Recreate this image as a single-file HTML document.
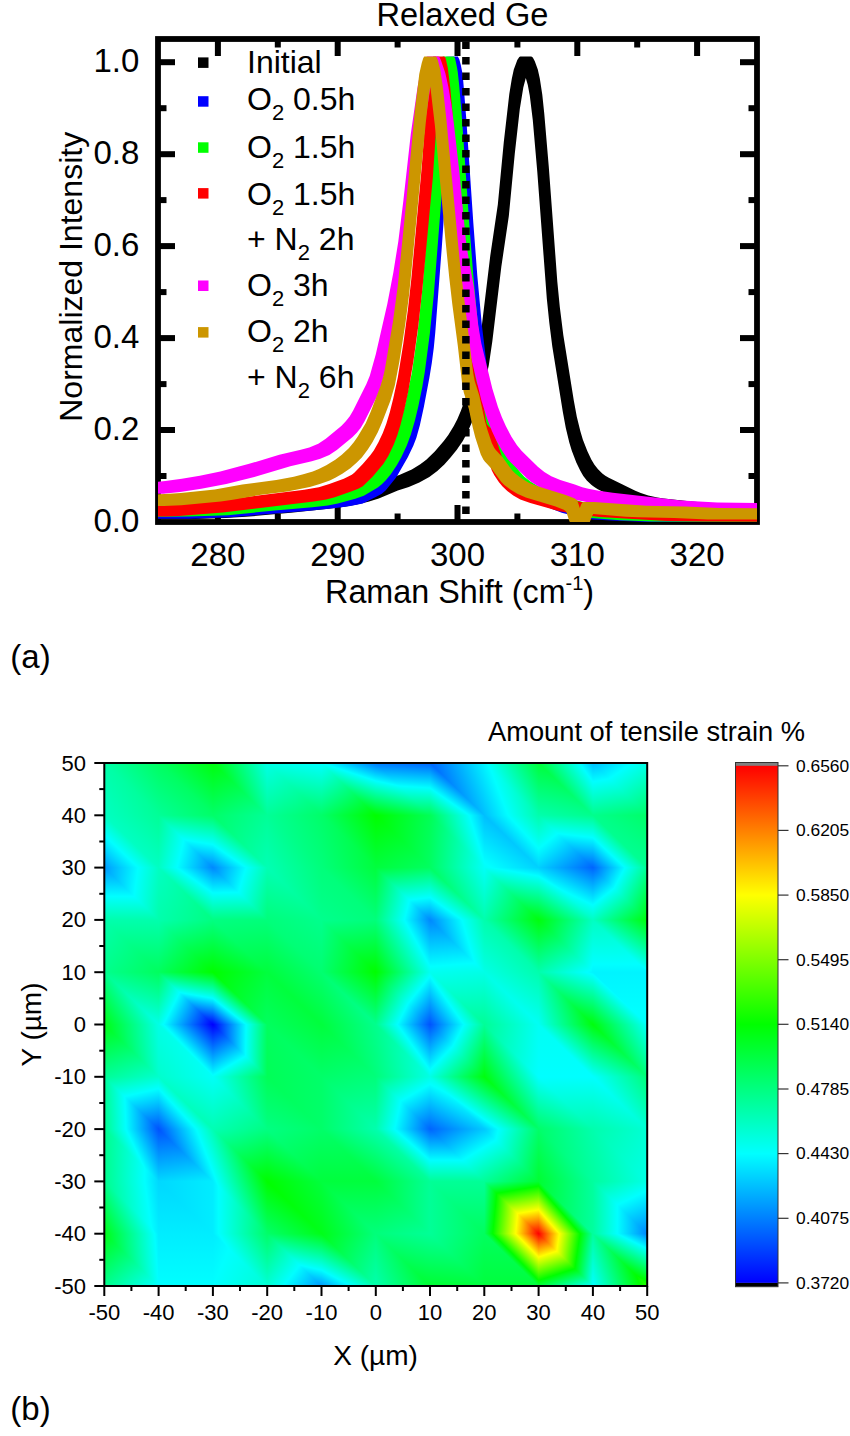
<!DOCTYPE html>
<html><head><meta charset="utf-8"><style>
html,body{margin:0;padding:0;background:#fff;}
svg{display:block;}
</style></head><body>
<svg width="850" height="1436" viewBox="0 0 850 1436" shape-rendering="auto">
<defs><linearGradient id="g1" gradientUnits="userSpaceOnUse" x1="126.41" y1="791.40" x2="160.21" y2="765.08"><stop offset="0.0000" stop-color="#00ffa9"/><stop offset="0.5750" stop-color="#00ff80"/><stop offset="1.0000" stop-color="#00ff61"/></linearGradient>
<linearGradient id="g2" gradientUnits="userSpaceOnUse" x1="101.43" y1="810.56" x2="141.16" y2="786.51"><stop offset="0.0000" stop-color="#00ffc2"/><stop offset="1.0000" stop-color="#00ff97"/></linearGradient>
<linearGradient id="g3" gradientUnits="userSpaceOnUse" x1="185.44" y1="790.98" x2="211.40" y2="761.69"><stop offset="0.0000" stop-color="#00ff69"/><stop offset="1.0000" stop-color="#00ff0e"/></linearGradient>
<linearGradient id="g4" gradientUnits="userSpaceOnUse" x1="160.68" y1="817.04" x2="186.41" y2="786.22"><stop offset="0.0000" stop-color="#00ff97"/><stop offset="0.4333" stop-color="#00ff80"/><stop offset="1.0000" stop-color="#00ff61"/></linearGradient>
<linearGradient id="g5" gradientUnits="userSpaceOnUse" x1="270.68" y1="772.21" x2="223.26" y2="790.26"><stop offset="0.0000" stop-color="#00ffe6"/><stop offset="0.4750" stop-color="#00ff80"/><stop offset="1.0000" stop-color="#00ff0e"/></linearGradient>
<linearGradient id="g6" gradientUnits="userSpaceOnUse" x1="245.22" y1="826.30" x2="213.38" y2="762.75"><stop offset="0.0000" stop-color="#00ff97"/><stop offset="0.1711" stop-color="#00ff80"/><stop offset="1.0000" stop-color="#00ff0e"/></linearGradient>
<linearGradient id="g7" gradientUnits="userSpaceOnUse" x1="306.55" y1="760.61" x2="298.36" y2="811.59"><stop offset="0.0000" stop-color="#00ffff"/><stop offset="0.8452" stop-color="#00ff80"/><stop offset="1.0000" stop-color="#00ff69"/></linearGradient>
<linearGradient id="g8" gradientUnits="userSpaceOnUse" x1="265.85" y1="763.75" x2="301.62" y2="826.59"><stop offset="0.0000" stop-color="#00ffe6"/><stop offset="0.8143" stop-color="#00ff80"/><stop offset="1.0000" stop-color="#00ff69"/></linearGradient>
<linearGradient id="g9" gradientUnits="userSpaceOnUse" x1="364.62" y1="759.33" x2="349.05" y2="806.49"><stop offset="0.0000" stop-color="#007bff"/><stop offset="0.0139" stop-color="#0080ff"/><stop offset="0.3426" stop-color="#00ffff"/><stop offset="0.6713" stop-color="#00ff80"/><stop offset="1.0000" stop-color="#00ff00"/></linearGradient>
<linearGradient id="g10" gradientUnits="userSpaceOnUse" x1="317.93" y1="765.35" x2="358.70" y2="826.64"><stop offset="0.0000" stop-color="#00ffff"/><stop offset="0.5000" stop-color="#00ff80"/><stop offset="1.0000" stop-color="#00ff00"/></linearGradient>
<linearGradient id="g11" gradientUnits="userSpaceOnUse" x1="413.13" y1="761.91" x2="409.79" y2="814.00"><stop offset="0.0000" stop-color="#0065ff"/><stop offset="0.0833" stop-color="#0080ff"/><stop offset="0.4778" stop-color="#00ffff"/><stop offset="0.8722" stop-color="#00ff80"/><stop offset="1.0000" stop-color="#00ff57"/></linearGradient>
<linearGradient id="g12" gradientUnits="userSpaceOnUse" x1="400.19" y1="768.23" x2="389.49" y2="818.24"><stop offset="0.0000" stop-color="#007bff"/><stop offset="0.0139" stop-color="#0080ff"/><stop offset="0.3426" stop-color="#00ffff"/><stop offset="0.6713" stop-color="#00ff80"/><stop offset="1.0000" stop-color="#00ff00"/></linearGradient>
<linearGradient id="g13" gradientUnits="userSpaceOnUse" x1="440.70" y1="790.37" x2="487.84" y2="772.02"><stop offset="0.0000" stop-color="#0065ff"/><stop offset="0.1875" stop-color="#0080ff"/><stop offset="1.0000" stop-color="#00f4ff"/></linearGradient>
<linearGradient id="g14" gradientUnits="userSpaceOnUse" x1="458.58" y1="782.86" x2="434.06" y2="818.10"><stop offset="0.0000" stop-color="#0065ff"/><stop offset="0.0833" stop-color="#0080ff"/><stop offset="0.4778" stop-color="#00ffff"/><stop offset="0.8722" stop-color="#00ff80"/><stop offset="1.0000" stop-color="#00ff57"/></linearGradient>
<linearGradient id="g15" gradientUnits="userSpaceOnUse" x1="500.54" y1="791.71" x2="541.71" y2="768.47"><stop offset="0.0000" stop-color="#00f4ff"/><stop offset="0.0526" stop-color="#00ffff"/><stop offset="0.6754" stop-color="#00ff80"/><stop offset="1.0000" stop-color="#00ff3d"/></linearGradient>
<linearGradient id="g16" gradientUnits="userSpaceOnUse" x1="480.82" y1="806.07" x2="528.27" y2="788.05"><stop offset="0.0000" stop-color="#00bfff"/><stop offset="0.4390" stop-color="#00ffff"/><stop offset="1.0000" stop-color="#00ffad"/></linearGradient>
<linearGradient id="g17" gradientUnits="userSpaceOnUse" x1="594.99" y1="765.89" x2="559.27" y2="791.64"><stop offset="0.0000" stop-color="#00bfff"/><stop offset="0.2500" stop-color="#00ffff"/><stop offset="0.7431" stop-color="#00ff80"/><stop offset="1.0000" stop-color="#00ff3d"/></linearGradient>
<linearGradient id="g18" gradientUnits="userSpaceOnUse" x1="550.88" y1="818.73" x2="564.45" y2="770.22"><stop offset="0.0000" stop-color="#00ffad"/><stop offset="0.4032" stop-color="#00ff80"/><stop offset="1.0000" stop-color="#00ff3d"/></linearGradient>
<linearGradient id="g19" gradientUnits="userSpaceOnUse" x1="609.33" y1="751.70" x2="651.20" y2="812.55"><stop offset="0.0000" stop-color="#00bfff"/><stop offset="0.3000" stop-color="#00ffff"/><stop offset="0.8917" stop-color="#00ff80"/><stop offset="1.0000" stop-color="#00ff69"/></linearGradient>
<linearGradient id="g20" gradientUnits="userSpaceOnUse" x1="603.88" y1="760.89" x2="615.54" y2="821.40"><stop offset="0.0000" stop-color="#00bfff"/><stop offset="0.3000" stop-color="#00ffff"/><stop offset="0.8917" stop-color="#00ff80"/><stop offset="1.0000" stop-color="#00ff69"/></linearGradient>
<linearGradient id="g21" gradientUnits="userSpaceOnUse" x1="131.78" y1="841.78" x2="157.91" y2="814.65"><stop offset="0.0000" stop-color="#00ffc2"/><stop offset="1.0000" stop-color="#00ff97"/></linearGradient>
<linearGradient id="g22" gradientUnits="userSpaceOnUse" x1="104.98" y1="868.25" x2="131.11" y2="841.12"><stop offset="0.0000" stop-color="#009bff"/><stop offset="0.6222" stop-color="#00ffff"/><stop offset="1.0000" stop-color="#00ffc2"/></linearGradient>
<linearGradient id="g23" gradientUnits="userSpaceOnUse" x1="189.61" y1="863.71" x2="198.11" y2="812.83"><stop offset="0.0000" stop-color="#0089ff"/><stop offset="0.4400" stop-color="#00ffff"/><stop offset="0.9133" stop-color="#00ff80"/><stop offset="1.0000" stop-color="#00ff69"/></linearGradient>
<linearGradient id="g24" gradientUnits="userSpaceOnUse" x1="214.85" y1="859.68" x2="151.47" y2="843.88"><stop offset="0.0000" stop-color="#0089ff"/><stop offset="0.5323" stop-color="#00ffff"/><stop offset="1.0000" stop-color="#00ff97"/></linearGradient>
<linearGradient id="g25" gradientUnits="userSpaceOnUse" x1="277.74" y1="851.05" x2="215.46" y2="811.26"><stop offset="0.0000" stop-color="#00ffb4"/><stop offset="0.6905" stop-color="#00ff80"/><stop offset="1.0000" stop-color="#00ff69"/></linearGradient>
<linearGradient id="g26" gradientUnits="userSpaceOnUse" x1="216.93" y1="870.41" x2="241.43" y2="835.10"><stop offset="0.0000" stop-color="#0089ff"/><stop offset="0.4400" stop-color="#00ffff"/><stop offset="0.9133" stop-color="#00ff80"/><stop offset="1.0000" stop-color="#00ff69"/></linearGradient>
<linearGradient id="g27" gradientUnits="userSpaceOnUse" x1="278.15" y1="842.80" x2="324.98" y2="824.10"><stop offset="0.0000" stop-color="#00ff97"/><stop offset="0.5000" stop-color="#00ff80"/><stop offset="1.0000" stop-color="#00ff69"/></linearGradient>
<linearGradient id="g28" gradientUnits="userSpaceOnUse" x1="263.88" y1="861.27" x2="306.65" y2="839.07"><stop offset="0.0000" stop-color="#00ffb4"/><stop offset="0.9063" stop-color="#00ff80"/><stop offset="1.0000" stop-color="#00ff7b"/></linearGradient>
<linearGradient id="g29" gradientUnits="userSpaceOnUse" x1="338.98" y1="844.10" x2="378.60" y2="819.99"><stop offset="0.0000" stop-color="#00ff69"/><stop offset="1.0000" stop-color="#00ff00"/></linearGradient>
<linearGradient id="g30" gradientUnits="userSpaceOnUse" x1="318.13" y1="856.71" x2="367.80" y2="841.55"><stop offset="0.0000" stop-color="#00ff7b"/><stop offset="1.0000" stop-color="#00ff3d"/></linearGradient>
<linearGradient id="g31" gradientUnits="userSpaceOnUse" x1="434.19" y1="835.62" x2="374.12" y2="827.83"><stop offset="0.0000" stop-color="#00ff61"/><stop offset="1.0000" stop-color="#00ff00"/></linearGradient>
<linearGradient id="g32" gradientUnits="userSpaceOnUse" x1="410.12" y1="878.89" x2="374.49" y2="816.01"><stop offset="0.0000" stop-color="#00ff61"/><stop offset="1.0000" stop-color="#00ff00"/></linearGradient>
<linearGradient id="g33" gradientUnits="userSpaceOnUse" x1="487.71" y1="825.87" x2="438.44" y2="841.61"><stop offset="0.0000" stop-color="#00bfff"/><stop offset="0.2769" stop-color="#00ffff"/><stop offset="0.8231" stop-color="#00ff80"/><stop offset="1.0000" stop-color="#00ff57"/></linearGradient>
<linearGradient id="g34" gradientUnits="userSpaceOnUse" x1="485.42" y1="852.93" x2="427.57" y2="848.64"><stop offset="0.0000" stop-color="#00fff8"/><stop offset="0.7444" stop-color="#00ff80"/><stop offset="1.0000" stop-color="#00ff57"/></linearGradient>
<linearGradient id="g35" gradientUnits="userSpaceOnUse" x1="509.43" y1="842.84" x2="539.09" y2="815.81"><stop offset="0.0000" stop-color="#00bfff"/><stop offset="0.4390" stop-color="#00ffff"/><stop offset="1.0000" stop-color="#00ffad"/></linearGradient>
<linearGradient id="g36" gradientUnits="userSpaceOnUse" x1="512.77" y1="835.85" x2="487.94" y2="870.21"><stop offset="0.0000" stop-color="#00bfff"/><stop offset="0.9000" stop-color="#00ffff"/><stop offset="1.0000" stop-color="#00fff8"/></linearGradient>
<linearGradient id="g37" gradientUnits="userSpaceOnUse" x1="571.07" y1="865.08" x2="577.04" y2="813.47"><stop offset="0.0000" stop-color="#0065ff"/><stop offset="0.1000" stop-color="#0080ff"/><stop offset="0.5733" stop-color="#00ffff"/><stop offset="1.0000" stop-color="#00ff8d"/></linearGradient>
<linearGradient id="g38" gradientUnits="userSpaceOnUse" x1="579.41" y1="878.44" x2="532.60" y2="820.13"><stop offset="0.0000" stop-color="#0065ff"/><stop offset="0.1136" stop-color="#0080ff"/><stop offset="0.6515" stop-color="#00ffff"/><stop offset="1.0000" stop-color="#00ffad"/></linearGradient>
<linearGradient id="g39" gradientUnits="userSpaceOnUse" x1="619.17" y1="845.10" x2="644.71" y2="813.30"><stop offset="0.0000" stop-color="#00ff94"/><stop offset="0.4583" stop-color="#00ff80"/><stop offset="1.0000" stop-color="#00ff69"/></linearGradient>
<linearGradient id="g40" gradientUnits="userSpaceOnUse" x1="593.84" y1="868.47" x2="619.94" y2="840.64"><stop offset="0.0000" stop-color="#0065ff"/><stop offset="0.1000" stop-color="#0080ff"/><stop offset="0.5733" stop-color="#00ffff"/><stop offset="1.0000" stop-color="#00ff8d"/></linearGradient>
<linearGradient id="g41" gradientUnits="userSpaceOnUse" x1="102.61" y1="879.79" x2="162.98" y2="888.15"><stop offset="0.0000" stop-color="#009bff"/><stop offset="0.5490" stop-color="#00ffff"/><stop offset="1.0000" stop-color="#00ffad"/></linearGradient>
<linearGradient id="g42" gradientUnits="userSpaceOnUse" x1="122.40" y1="867.60" x2="122.40" y2="919.90"><stop offset="0.0000" stop-color="#009bff"/><stop offset="0.5490" stop-color="#00ffff"/><stop offset="1.0000" stop-color="#00ffad"/></linearGradient>
<linearGradient id="g43" gradientUnits="userSpaceOnUse" x1="209.05" y1="864.89" x2="184.38" y2="899.71"><stop offset="0.0000" stop-color="#0089ff"/><stop offset="0.4853" stop-color="#00ffff"/><stop offset="1.0000" stop-color="#00ff82"/></linearGradient>
<linearGradient id="g44" gradientUnits="userSpaceOnUse" x1="148.17" y1="887.67" x2="212.33" y2="920.97"><stop offset="0.0000" stop-color="#00ffc2"/><stop offset="1.0000" stop-color="#00ff82"/></linearGradient>
<linearGradient id="g45" gradientUnits="userSpaceOnUse" x1="211.11" y1="873.36" x2="275.40" y2="893.13"><stop offset="0.0000" stop-color="#0089ff"/><stop offset="0.4714" stop-color="#00ffff"/><stop offset="0.9786" stop-color="#00ff80"/><stop offset="1.0000" stop-color="#00ff7b"/></linearGradient>
<linearGradient id="g46" gradientUnits="userSpaceOnUse" x1="229.98" y1="867.12" x2="231.50" y2="920.91"><stop offset="0.0000" stop-color="#0089ff"/><stop offset="0.4714" stop-color="#00ffff"/><stop offset="0.9786" stop-color="#00ff80"/><stop offset="1.0000" stop-color="#00ff7b"/></linearGradient>
<linearGradient id="g47" gradientUnits="userSpaceOnUse" x1="275.73" y1="894.00" x2="324.85" y2="878.06"><stop offset="0.0000" stop-color="#00ffb4"/><stop offset="0.9063" stop-color="#00ff80"/><stop offset="1.0000" stop-color="#00ff7b"/></linearGradient>
<linearGradient id="g48" gradientUnits="userSpaceOnUse" x1="293.39" y1="875.49" x2="278.95" y2="923.45"><stop offset="0.0000" stop-color="#00ffb4"/><stop offset="0.9063" stop-color="#00ff80"/><stop offset="1.0000" stop-color="#00ff7b"/></linearGradient>
<linearGradient id="g49" gradientUnits="userSpaceOnUse" x1="348.94" y1="894.08" x2="375.07" y2="866.95"><stop offset="0.0000" stop-color="#00ff7b"/><stop offset="1.0000" stop-color="#00ff3d"/></linearGradient>
<linearGradient id="g50" gradientUnits="userSpaceOnUse" x1="322.14" y1="920.55" x2="348.27" y2="893.42"><stop offset="0.0000" stop-color="#00ff8d"/><stop offset="0.7000" stop-color="#00ff80"/><stop offset="1.0000" stop-color="#00ff7b"/></linearGradient>
<linearGradient id="g51" gradientUnits="userSpaceOnUse" x1="416.52" y1="921.59" x2="409.24" y2="863.41"><stop offset="0.0000" stop-color="#0089ff"/><stop offset="0.3793" stop-color="#00ffff"/><stop offset="0.7874" stop-color="#00ff80"/><stop offset="1.0000" stop-color="#00ff3d"/></linearGradient>
<linearGradient id="g52" gradientUnits="userSpaceOnUse" x1="432.01" y1="912.09" x2="368.57" y2="896.09"><stop offset="0.0000" stop-color="#0089ff"/><stop offset="0.3793" stop-color="#00ffff"/><stop offset="0.7874" stop-color="#00ff80"/><stop offset="1.0000" stop-color="#00ff3d"/></linearGradient>
<linearGradient id="g53" gradientUnits="userSpaceOnUse" x1="487.62" y1="873.93" x2="444.85" y2="896.13"><stop offset="0.0000" stop-color="#00fff8"/><stop offset="0.7976" stop-color="#00ff80"/><stop offset="1.0000" stop-color="#00ff61"/></linearGradient>
<linearGradient id="g54" gradientUnits="userSpaceOnUse" x1="433.99" y1="922.66" x2="458.56" y2="887.58"><stop offset="0.0000" stop-color="#0089ff"/><stop offset="0.4286" stop-color="#00ffff"/><stop offset="0.8896" stop-color="#00ff80"/><stop offset="1.0000" stop-color="#00ff61"/></linearGradient>
<linearGradient id="g55" gradientUnits="userSpaceOnUse" x1="524.14" y1="864.99" x2="515.00" y2="915.63"><stop offset="0.0000" stop-color="#00d0ff"/><stop offset="0.1625" stop-color="#00ffff"/><stop offset="0.6063" stop-color="#00ff80"/><stop offset="1.0000" stop-color="#00ff0e"/></linearGradient>
<linearGradient id="g56" gradientUnits="userSpaceOnUse" x1="474.03" y1="888.40" x2="538.42" y2="920.30"><stop offset="0.0000" stop-color="#00fff8"/><stop offset="0.5154" stop-color="#00ff80"/><stop offset="1.0000" stop-color="#00ff0e"/></linearGradient>
<linearGradient id="g57" gradientUnits="userSpaceOnUse" x1="585.04" y1="863.81" x2="564.59" y2="906.26"><stop offset="0.0000" stop-color="#0065ff"/><stop offset="0.1250" stop-color="#0080ff"/><stop offset="0.7167" stop-color="#00ffff"/><stop offset="1.0000" stop-color="#00ffc2"/></linearGradient>
<linearGradient id="g58" gradientUnits="userSpaceOnUse" x1="567.31" y1="884.87" x2="544.20" y2="923.26"><stop offset="0.0000" stop-color="#00d0ff"/><stop offset="0.1625" stop-color="#00ffff"/><stop offset="0.6063" stop-color="#00ff80"/><stop offset="1.0000" stop-color="#00ff0e"/></linearGradient>
<linearGradient id="g59" gradientUnits="userSpaceOnUse" x1="593.57" y1="866.34" x2="657.64" y2="900.05"><stop offset="0.0000" stop-color="#0065ff"/><stop offset="0.0682" stop-color="#0080ff"/><stop offset="0.3909" stop-color="#00ffff"/><stop offset="0.7136" stop-color="#00ff80"/><stop offset="1.0000" stop-color="#00ff0e"/></linearGradient>
<linearGradient id="g60" gradientUnits="userSpaceOnUse" x1="586.89" y1="872.43" x2="633.70" y2="930.74"><stop offset="0.0000" stop-color="#0065ff"/><stop offset="0.0682" stop-color="#0080ff"/><stop offset="0.3909" stop-color="#00ffff"/><stop offset="0.7136" stop-color="#00ff80"/><stop offset="1.0000" stop-color="#00ff0e"/></linearGradient>
<linearGradient id="g61" gradientUnits="userSpaceOnUse" x1="140.49" y1="919.90" x2="140.49" y2="972.20"><stop offset="0.0000" stop-color="#00ffad"/><stop offset="0.5682" stop-color="#00ff80"/><stop offset="1.0000" stop-color="#00ff5e"/></linearGradient>
<linearGradient id="g62" gradientUnits="userSpaceOnUse" x1="93.94" y1="934.32" x2="154.53" y2="977.86"><stop offset="0.0000" stop-color="#00ffad"/><stop offset="0.5682" stop-color="#00ff80"/><stop offset="1.0000" stop-color="#00ff5e"/></linearGradient>
<linearGradient id="g63" gradientUnits="userSpaceOnUse" x1="186.33" y1="910.99" x2="206.62" y2="974.21"><stop offset="0.0000" stop-color="#00ffad"/><stop offset="0.2604" stop-color="#00ff80"/><stop offset="1.0000" stop-color="#00ff00"/></linearGradient>
<linearGradient id="g64" gradientUnits="userSpaceOnUse" x1="149.18" y1="930.61" x2="205.76" y2="980.30"><stop offset="0.0000" stop-color="#00ffad"/><stop offset="0.2604" stop-color="#00ff80"/><stop offset="1.0000" stop-color="#00ff00"/></linearGradient>
<linearGradient id="g65" gradientUnits="userSpaceOnUse" x1="246.66" y1="916.07" x2="253.20" y2="973.78"><stop offset="0.0000" stop-color="#00ff82"/><stop offset="0.0263" stop-color="#00ff80"/><stop offset="1.0000" stop-color="#00ff3d"/></linearGradient>
<linearGradient id="g66" gradientUnits="userSpaceOnUse" x1="241.02" y1="932.70" x2="221.30" y2="976.03"><stop offset="0.0000" stop-color="#00ff82"/><stop offset="0.0139" stop-color="#00ff80"/><stop offset="1.0000" stop-color="#00ff00"/></linearGradient>
<linearGradient id="g67" gradientUnits="userSpaceOnUse" x1="315.88" y1="916.54" x2="292.77" y2="954.93"><stop offset="0.0000" stop-color="#00ff8d"/><stop offset="0.4375" stop-color="#00ff80"/><stop offset="1.0000" stop-color="#00ff70"/></linearGradient>
<linearGradient id="g68" gradientUnits="userSpaceOnUse" x1="295.25" y1="942.18" x2="269.79" y2="974.28"><stop offset="0.0000" stop-color="#00ff7b"/><stop offset="1.0000" stop-color="#00ff3d"/></linearGradient>
<linearGradient id="g69" gradientUnits="userSpaceOnUse" x1="354.52" y1="915.22" x2="362.85" y2="974.03"><stop offset="0.0000" stop-color="#00ff8d"/><stop offset="0.0897" stop-color="#00ff80"/><stop offset="1.0000" stop-color="#00ff00"/></linearGradient>
<linearGradient id="g70" gradientUnits="userSpaceOnUse" x1="313.96" y1="947.91" x2="377.68" y2="964.98"><stop offset="0.0000" stop-color="#00ff8d"/><stop offset="0.0897" stop-color="#00ff80"/><stop offset="1.0000" stop-color="#00ff00"/></linearGradient>
<linearGradient id="g71" gradientUnits="userSpaceOnUse" x1="433.20" y1="925.67" x2="391.48" y2="948.56"><stop offset="0.0000" stop-color="#0089ff"/><stop offset="0.4714" stop-color="#00ffff"/><stop offset="0.9786" stop-color="#00ff80"/><stop offset="1.0000" stop-color="#00ff7b"/></linearGradient>
<linearGradient id="g72" gradientUnits="userSpaceOnUse" x1="414.99" y1="943.63" x2="372.49" y2="966.02"><stop offset="0.0000" stop-color="#00fff1"/><stop offset="0.4701" stop-color="#00ff80"/><stop offset="1.0000" stop-color="#00ff00"/></linearGradient>
<linearGradient id="g73" gradientUnits="userSpaceOnUse" x1="437.72" y1="945.79" x2="487.62" y2="930.99"><stop offset="0.0000" stop-color="#0089ff"/><stop offset="0.5893" stop-color="#00ffff"/><stop offset="1.0000" stop-color="#00ffad"/></linearGradient>
<linearGradient id="g74" gradientUnits="userSpaceOnUse" x1="445.32" y1="918.71" x2="449.71" y2="974.90"><stop offset="0.0000" stop-color="#0089ff"/><stop offset="0.8250" stop-color="#00ffff"/><stop offset="1.0000" stop-color="#00ffe6"/></linearGradient>
<linearGradient id="g75" gradientUnits="userSpaceOnUse" x1="511.81" y1="946.38" x2="537.94" y2="919.25"><stop offset="0.0000" stop-color="#00ffad"/><stop offset="0.2841" stop-color="#00ff80"/><stop offset="1.0000" stop-color="#00ff0e"/></linearGradient>
<linearGradient id="g76" gradientUnits="userSpaceOnUse" x1="485.01" y1="972.85" x2="511.14" y2="945.72"><stop offset="0.0000" stop-color="#00ffe6"/><stop offset="1.0000" stop-color="#00ffad"/></linearGradient>
<linearGradient id="g77" gradientUnits="userSpaceOnUse" x1="602.60" y1="948.87" x2="537.77" y2="921.95"><stop offset="0.0000" stop-color="#00f4ff"/><stop offset="0.0429" stop-color="#00ffff"/><stop offset="0.5500" stop-color="#00ff80"/><stop offset="1.0000" stop-color="#00ff0e"/></linearGradient>
<linearGradient id="g78" gradientUnits="userSpaceOnUse" x1="573.07" y1="983.49" x2="537.30" y2="920.65"><stop offset="0.0000" stop-color="#00f4ff"/><stop offset="0.0429" stop-color="#00ffff"/><stop offset="0.5500" stop-color="#00ff80"/><stop offset="1.0000" stop-color="#00ff0e"/></linearGradient>
<linearGradient id="g79" gradientUnits="userSpaceOnUse" x1="618.64" y1="952.55" x2="643.06" y2="917.05"><stop offset="0.0000" stop-color="#00f4ff"/><stop offset="0.0429" stop-color="#00ffff"/><stop offset="0.5500" stop-color="#00ff80"/><stop offset="1.0000" stop-color="#00ff0e"/></linearGradient>
<linearGradient id="g80" gradientUnits="userSpaceOnUse" x1="611.01" y1="972.20" x2="611.01" y2="919.90"><stop offset="0.0000" stop-color="#00f4ff"/><stop offset="0.1500" stop-color="#00ffff"/><stop offset="1.0000" stop-color="#00ffc2"/></linearGradient>
<linearGradient id="g81" gradientUnits="userSpaceOnUse" x1="131.90" y1="1015.70" x2="147.45" y2="968.53"><stop offset="0.0000" stop-color="#00ffe6"/><stop offset="0.7500" stop-color="#00ff80"/><stop offset="1.0000" stop-color="#00ff5e"/></linearGradient>
<linearGradient id="g82" gradientUnits="userSpaceOnUse" x1="141.60" y1="995.73" x2="101.35" y2="1019.50"><stop offset="0.0000" stop-color="#00ffe6"/><stop offset="0.4914" stop-color="#00ff80"/><stop offset="1.0000" stop-color="#00ff16"/></linearGradient>
<linearGradient id="g83" gradientUnits="userSpaceOnUse" x1="189.36" y1="1020.35" x2="198.31" y2="969.63"><stop offset="0.0000" stop-color="#0000ff"/><stop offset="0.2500" stop-color="#0080ff"/><stop offset="0.5000" stop-color="#00ffff"/><stop offset="0.7500" stop-color="#00ff80"/><stop offset="1.0000" stop-color="#00ff00"/></linearGradient>
<linearGradient id="g84" gradientUnits="userSpaceOnUse" x1="212.53" y1="1025.19" x2="148.23" y2="992.68"><stop offset="0.0000" stop-color="#0000ff"/><stop offset="0.3060" stop-color="#0080ff"/><stop offset="0.6121" stop-color="#00ffff"/><stop offset="0.9181" stop-color="#00ff80"/><stop offset="1.0000" stop-color="#00ff5e"/></linearGradient>
<linearGradient id="g85" gradientUnits="userSpaceOnUse" x1="277.69" y1="1005.36" x2="213.92" y2="970.31"><stop offset="0.0000" stop-color="#00ff5e"/><stop offset="1.0000" stop-color="#00ff00"/></linearGradient>
<linearGradient id="g86" gradientUnits="userSpaceOnUse" x1="215.58" y1="1026.63" x2="241.00" y2="994.33"><stop offset="0.0000" stop-color="#0000ff"/><stop offset="0.2500" stop-color="#0080ff"/><stop offset="0.5000" stop-color="#00ffff"/><stop offset="0.7500" stop-color="#00ff80"/><stop offset="1.0000" stop-color="#00ff00"/></linearGradient>
<linearGradient id="g87" gradientUnits="userSpaceOnUse" x1="320.78" y1="971.55" x2="294.65" y2="998.68"><stop offset="0.0000" stop-color="#00ff70"/><stop offset="1.0000" stop-color="#00ff3d"/></linearGradient>
<linearGradient id="g88" gradientUnits="userSpaceOnUse" x1="267.85" y1="1025.15" x2="293.98" y2="998.02"><stop offset="0.0000" stop-color="#00ff5e"/><stop offset="1.0000" stop-color="#00ff3d"/></linearGradient>
<linearGradient id="g89" gradientUnits="userSpaceOnUse" x1="347.51" y1="1002.88" x2="372.76" y2="969.91"><stop offset="0.0000" stop-color="#00ff8d"/><stop offset="0.0897" stop-color="#00ff80"/><stop offset="1.0000" stop-color="#00ff00"/></linearGradient>
<linearGradient id="g90" gradientUnits="userSpaceOnUse" x1="356.74" y1="995.72" x2="318.94" y2="1020.69"><stop offset="0.0000" stop-color="#00ff8d"/><stop offset="0.1591" stop-color="#00ff80"/><stop offset="1.0000" stop-color="#00ff3d"/></linearGradient>
<linearGradient id="g91" gradientUnits="userSpaceOnUse" x1="439.95" y1="1012.20" x2="381.48" y2="965.09"><stop offset="0.0000" stop-color="#0053ff"/><stop offset="0.1050" stop-color="#0080ff"/><stop offset="0.4034" stop-color="#00ffff"/><stop offset="0.7017" stop-color="#00ff80"/><stop offset="1.0000" stop-color="#00ff00"/></linearGradient>
<linearGradient id="g92" gradientUnits="userSpaceOnUse" x1="429.68" y1="1025.20" x2="365.39" y2="992.67"><stop offset="0.0000" stop-color="#0053ff"/><stop offset="0.1050" stop-color="#0080ff"/><stop offset="0.4034" stop-color="#00ffff"/><stop offset="0.7017" stop-color="#00ff80"/><stop offset="1.0000" stop-color="#00ff00"/></linearGradient>
<linearGradient id="g93" gradientUnits="userSpaceOnUse" x1="463.37" y1="967.82" x2="471.04" y2="1026.25"><stop offset="0.0000" stop-color="#00fff1"/><stop offset="1.0000" stop-color="#00ff97"/></linearGradient>
<linearGradient id="g94" gradientUnits="userSpaceOnUse" x1="427.81" y1="1021.32" x2="464.21" y2="995.80"><stop offset="0.0000" stop-color="#0053ff"/><stop offset="0.1623" stop-color="#0080ff"/><stop offset="0.6234" stop-color="#00ffff"/><stop offset="1.0000" stop-color="#00ff97"/></linearGradient>
<linearGradient id="g95" gradientUnits="userSpaceOnUse" x1="510.41" y1="1002.76" x2="535.70" y2="969.95"><stop offset="0.0000" stop-color="#00fff4"/><stop offset="1.0000" stop-color="#00ffad"/></linearGradient>
<linearGradient id="g96" gradientUnits="userSpaceOnUse" x1="514.21" y1="996.71" x2="483.57" y2="1023.63"><stop offset="0.0000" stop-color="#00fff4"/><stop offset="1.0000" stop-color="#00ff97"/></linearGradient>
<linearGradient id="g97" gradientUnits="userSpaceOnUse" x1="582.40" y1="968.44" x2="565.81" y2="1014.80"><stop offset="0.0000" stop-color="#00f4ff"/><stop offset="0.0429" stop-color="#00ffff"/><stop offset="0.5500" stop-color="#00ff80"/><stop offset="1.0000" stop-color="#00ff0e"/></linearGradient>
<linearGradient id="g98" gradientUnits="userSpaceOnUse" x1="535.23" y1="1014.04" x2="584.35" y2="998.10"><stop offset="0.0000" stop-color="#00fff4"/><stop offset="0.5078" stop-color="#00ff80"/><stop offset="1.0000" stop-color="#00ff0e"/></linearGradient>
<linearGradient id="g99" gradientUnits="userSpaceOnUse" x1="629.10" y1="972.20" x2="629.10" y2="1024.50"><stop offset="0.0000" stop-color="#00f4ff"/><stop offset="0.7500" stop-color="#00ffff"/><stop offset="1.0000" stop-color="#00fffb"/></linearGradient>
<linearGradient id="g100" gradientUnits="userSpaceOnUse" x1="620.18" y1="996.97" x2="594.15" y2="1025.63"><stop offset="0.0000" stop-color="#00f4ff"/><stop offset="0.0429" stop-color="#00ffff"/><stop offset="0.5500" stop-color="#00ff80"/><stop offset="1.0000" stop-color="#00ff0e"/></linearGradient>
<linearGradient id="g101" gradientUnits="userSpaceOnUse" x1="160.46" y1="1039.43" x2="107.01" y2="1046.13"><stop offset="0.0000" stop-color="#00ffe6"/><stop offset="0.4914" stop-color="#00ff80"/><stop offset="1.0000" stop-color="#00ff16"/></linearGradient>
<linearGradient id="g102" gradientUnits="userSpaceOnUse" x1="133.45" y1="1086.89" x2="107.83" y2="1023.08"><stop offset="0.0000" stop-color="#00ffcd"/><stop offset="0.4216" stop-color="#00ff80"/><stop offset="1.0000" stop-color="#00ff16"/></linearGradient>
<linearGradient id="g103" gradientUnits="userSpaceOnUse" x1="212.81" y1="1024.42" x2="184.88" y2="1051.56"><stop offset="0.0000" stop-color="#0000ff"/><stop offset="0.4551" stop-color="#0080ff"/><stop offset="0.9103" stop-color="#00ffff"/><stop offset="1.0000" stop-color="#00ffe6"/></linearGradient>
<linearGradient id="g104" gradientUnits="userSpaceOnUse" x1="195.45" y1="1048.01" x2="155.72" y2="1072.06"><stop offset="0.0000" stop-color="#00fff8"/><stop offset="1.0000" stop-color="#00ffcd"/></linearGradient>
<linearGradient id="g105" gradientUnits="userSpaceOnUse" x1="212.58" y1="1041.28" x2="267.79" y2="1042.27"><stop offset="0.0000" stop-color="#0000ff"/><stop offset="0.3008" stop-color="#0080ff"/><stop offset="0.6017" stop-color="#00ffff"/><stop offset="0.9025" stop-color="#00ff80"/><stop offset="1.0000" stop-color="#00ff57"/></linearGradient>
<linearGradient id="g106" gradientUnits="userSpaceOnUse" x1="210.95" y1="1025.65" x2="248.07" y2="1088.14"><stop offset="0.0000" stop-color="#0000ff"/><stop offset="0.3008" stop-color="#0080ff"/><stop offset="0.6017" stop-color="#00ffff"/><stop offset="0.9025" stop-color="#00ff80"/><stop offset="1.0000" stop-color="#00ff57"/></linearGradient>
<linearGradient id="g107" gradientUnits="userSpaceOnUse" x1="293.02" y1="1056.25" x2="317.85" y2="1021.89"><stop offset="0.0000" stop-color="#00ff69"/><stop offset="1.0000" stop-color="#00ff3d"/></linearGradient>
<linearGradient id="g108" gradientUnits="userSpaceOnUse" x1="309.96" y1="1049.11" x2="263.66" y2="1068.34"><stop offset="0.0000" stop-color="#00ff69"/><stop offset="1.0000" stop-color="#00ff57"/></linearGradient>
<linearGradient id="g109" gradientUnits="userSpaceOnUse" x1="378.69" y1="1036.97" x2="327.26" y2="1049.10"><stop offset="0.0000" stop-color="#00ff8d"/><stop offset="0.1591" stop-color="#00ff80"/><stop offset="1.0000" stop-color="#00ff3d"/></linearGradient>
<linearGradient id="g110" gradientUnits="userSpaceOnUse" x1="350.61" y1="1086.89" x2="324.99" y2="1023.08"><stop offset="0.0000" stop-color="#00ff7b"/><stop offset="1.0000" stop-color="#00ff3d"/></linearGradient>
<linearGradient id="g111" gradientUnits="userSpaceOnUse" x1="432.18" y1="1027.49" x2="396.21" y2="1053.16"><stop offset="0.0000" stop-color="#0053ff"/><stop offset="0.1562" stop-color="#0080ff"/><stop offset="0.6000" stop-color="#00ffff"/><stop offset="1.0000" stop-color="#00ff8d"/></linearGradient>
<linearGradient id="g112" gradientUnits="userSpaceOnUse" x1="426.06" y1="1053.79" x2="373.35" y2="1062.91"><stop offset="0.0000" stop-color="#00ffe6"/><stop offset="0.9500" stop-color="#00ff80"/><stop offset="1.0000" stop-color="#00ff7b"/></linearGradient>
<linearGradient id="g113" gradientUnits="userSpaceOnUse" x1="430.49" y1="1023.62" x2="494.72" y2="1056.52"><stop offset="0.0000" stop-color="#0053ff"/><stop offset="0.1087" stop-color="#0080ff"/><stop offset="0.4174" stop-color="#00ffff"/><stop offset="0.7261" stop-color="#00ff80"/><stop offset="1.0000" stop-color="#00ff0e"/></linearGradient>
<linearGradient id="g114" gradientUnits="userSpaceOnUse" x1="421.23" y1="1033.76" x2="475.84" y2="1085.73"><stop offset="0.0000" stop-color="#0053ff"/><stop offset="0.1087" stop-color="#0080ff"/><stop offset="0.4174" stop-color="#00ffff"/><stop offset="0.7261" stop-color="#00ff80"/><stop offset="1.0000" stop-color="#00ff0e"/></linearGradient>
<linearGradient id="g115" gradientUnits="userSpaceOnUse" x1="542.48" y1="1044.56" x2="482.78" y2="1037.41"><stop offset="0.0000" stop-color="#00ffff"/><stop offset="1.0000" stop-color="#00ff97"/></linearGradient>
<linearGradient id="g116" gradientUnits="userSpaceOnUse" x1="521.68" y1="1048.03" x2="481.37" y2="1071.77"><stop offset="0.0000" stop-color="#00ffff"/><stop offset="0.5299" stop-color="#00ff80"/><stop offset="1.0000" stop-color="#00ff0e"/></linearGradient>
<linearGradient id="g117" gradientUnits="userSpaceOnUse" x1="565.74" y1="1051.80" x2="591.80" y2="1023.48"><stop offset="0.0000" stop-color="#00ffff"/><stop offset="0.5299" stop-color="#00ff80"/><stop offset="1.0000" stop-color="#00ff0e"/></linearGradient>
<linearGradient id="g118" gradientUnits="userSpaceOnUse" x1="556.72" y1="1076.80" x2="556.72" y2="1024.50"><stop offset="0.0000" stop-color="#00ffff"/><stop offset="1.0000" stop-color="#00fff4"/></linearGradient>
<linearGradient id="g119" gradientUnits="userSpaceOnUse" x1="650.28" y1="1029.94" x2="609.17" y2="1053.22"><stop offset="0.0000" stop-color="#00fffb"/><stop offset="0.5227" stop-color="#00ff80"/><stop offset="1.0000" stop-color="#00ff0e"/></linearGradient>
<linearGradient id="g120" gradientUnits="userSpaceOnUse" x1="599.79" y1="1080.46" x2="621.47" y2="1039.69"><stop offset="0.0000" stop-color="#00ffff"/><stop offset="0.5299" stop-color="#00ff80"/><stop offset="1.0000" stop-color="#00ff0e"/></linearGradient>
<linearGradient id="g121" gradientUnits="userSpaceOnUse" x1="149.13" y1="1131.30" x2="134.77" y2="1069.70"><stop offset="0.0000" stop-color="#0053ff"/><stop offset="0.1623" stop-color="#0080ff"/><stop offset="0.6234" stop-color="#00ffff"/><stop offset="1.0000" stop-color="#00ff97"/></linearGradient>
<linearGradient id="g122" gradientUnits="userSpaceOnUse" x1="157.86" y1="1110.29" x2="103.65" y2="1112.40"><stop offset="0.0000" stop-color="#0053ff"/><stop offset="0.1562" stop-color="#0080ff"/><stop offset="0.6000" stop-color="#00ffff"/><stop offset="1.0000" stop-color="#00ff8d"/></linearGradient>
<linearGradient id="g123" gradientUnits="userSpaceOnUse" x1="207.41" y1="1073.47" x2="184.19" y2="1111.64"><stop offset="0.0000" stop-color="#00fff8"/><stop offset="1.0000" stop-color="#00ffb4"/></linearGradient>
<linearGradient id="g124" gradientUnits="userSpaceOnUse" x1="158.31" y1="1128.80" x2="187.35" y2="1101.72"><stop offset="0.0000" stop-color="#0053ff"/><stop offset="0.1812" stop-color="#0080ff"/><stop offset="0.6957" stop-color="#00ffff"/><stop offset="1.0000" stop-color="#00ffb4"/></linearGradient>
<linearGradient id="g125" gradientUnits="userSpaceOnUse" x1="219.94" y1="1102.30" x2="270.36" y2="1088.34"><stop offset="0.0000" stop-color="#00fff8"/><stop offset="0.7444" stop-color="#00ff80"/><stop offset="1.0000" stop-color="#00ff57"/></linearGradient>
<linearGradient id="g126" gradientUnits="userSpaceOnUse" x1="208.46" y1="1079.94" x2="251.33" y2="1140.34"><stop offset="0.0000" stop-color="#00fff8"/><stop offset="1.0000" stop-color="#00ff82"/></linearGradient>
<linearGradient id="g127" gradientUnits="userSpaceOnUse" x1="321.46" y1="1094.23" x2="267.17" y2="1094.23"><stop offset="0.0000" stop-color="#00ff69"/><stop offset="1.0000" stop-color="#00ff57"/></linearGradient>
<linearGradient id="g128" gradientUnits="userSpaceOnUse" x1="273.48" y1="1132.64" x2="295.81" y2="1092.90"><stop offset="0.0000" stop-color="#00ff82"/><stop offset="0.0417" stop-color="#00ff80"/><stop offset="1.0000" stop-color="#00ff57"/></linearGradient>
<linearGradient id="g129" gradientUnits="userSpaceOnUse" x1="370.29" y1="1130.98" x2="348.46" y2="1067.51"><stop offset="0.0000" stop-color="#00ffad"/><stop offset="0.6579" stop-color="#00ff80"/><stop offset="1.0000" stop-color="#00ff69"/></linearGradient>
<linearGradient id="g130" gradientUnits="userSpaceOnUse" x1="375.75" y1="1111.67" x2="321.46" y2="1111.67"><stop offset="0.0000" stop-color="#00ffad"/><stop offset="0.6579" stop-color="#00ff80"/><stop offset="1.0000" stop-color="#00ff69"/></linearGradient>
<linearGradient id="g131" gradientUnits="userSpaceOnUse" x1="431.58" y1="1128.21" x2="395.33" y2="1065.48"><stop offset="0.0000" stop-color="#0065ff"/><stop offset="0.0937" stop-color="#0080ff"/><stop offset="0.5375" stop-color="#00ffff"/><stop offset="0.9813" stop-color="#00ff80"/><stop offset="1.0000" stop-color="#00ff7b"/></linearGradient>
<linearGradient id="g132" gradientUnits="userSpaceOnUse" x1="432.03" y1="1120.07" x2="369.26" y2="1106.25"><stop offset="0.0000" stop-color="#0065ff"/><stop offset="0.0937" stop-color="#0080ff"/><stop offset="0.5375" stop-color="#00ffff"/><stop offset="0.9813" stop-color="#00ff80"/><stop offset="1.0000" stop-color="#00ff7b"/></linearGradient>
<linearGradient id="g133" gradientUnits="userSpaceOnUse" x1="455.82" y1="1109.00" x2="480.45" y2="1074.06"><stop offset="0.0000" stop-color="#00c9ff"/><stop offset="0.1829" stop-color="#00ffff"/><stop offset="0.6159" stop-color="#00ff80"/><stop offset="1.0000" stop-color="#00ff0e"/></linearGradient>
<linearGradient id="g134" gradientUnits="userSpaceOnUse" x1="436.77" y1="1132.73" x2="458.63" y2="1092.22"><stop offset="0.0000" stop-color="#0065ff"/><stop offset="0.1500" stop-color="#0080ff"/><stop offset="0.8600" stop-color="#00ffff"/><stop offset="1.0000" stop-color="#00ffe6"/></linearGradient>
<linearGradient id="g135" gradientUnits="userSpaceOnUse" x1="541.21" y1="1080.77" x2="503.07" y2="1105.59"><stop offset="0.0000" stop-color="#00ffff"/><stop offset="0.5299" stop-color="#00ff80"/><stop offset="1.0000" stop-color="#00ff0e"/></linearGradient>
<linearGradient id="g136" gradientUnits="userSpaceOnUse" x1="488.76" y1="1132.07" x2="512.94" y2="1095.96"><stop offset="0.0000" stop-color="#00c9ff"/><stop offset="0.1829" stop-color="#00ffff"/><stop offset="0.6159" stop-color="#00ff80"/><stop offset="1.0000" stop-color="#00ff0e"/></linearGradient>
<linearGradient id="g137" gradientUnits="userSpaceOnUse" x1="574.81" y1="1076.80" x2="574.81" y2="1129.10"><stop offset="0.0000" stop-color="#00ffff"/><stop offset="1.0000" stop-color="#00ffad"/></linearGradient>
<linearGradient id="g138" gradientUnits="userSpaceOnUse" x1="566.60" y1="1088.99" x2="547.44" y2="1132.95"><stop offset="0.0000" stop-color="#00ffff"/><stop offset="0.8452" stop-color="#00ff80"/><stop offset="1.0000" stop-color="#00ff69"/></linearGradient>
<linearGradient id="g139" gradientUnits="userSpaceOnUse" x1="613.04" y1="1105.50" x2="649.43" y2="1079.98"><stop offset="0.0000" stop-color="#00ffff"/><stop offset="0.9595" stop-color="#00ff80"/><stop offset="1.0000" stop-color="#00ff7b"/></linearGradient>
<linearGradient id="g140" gradientUnits="userSpaceOnUse" x1="621.09" y1="1089.78" x2="601.21" y2="1132.93"><stop offset="0.0000" stop-color="#00ffff"/><stop offset="1.0000" stop-color="#00ffad"/></linearGradient>
<linearGradient id="g141" gradientUnits="userSpaceOnUse" x1="162.00" y1="1136.21" x2="117.88" y2="1157.39"><stop offset="0.0000" stop-color="#0053ff"/><stop offset="0.1562" stop-color="#0080ff"/><stop offset="0.6000" stop-color="#00ffff"/><stop offset="1.0000" stop-color="#00ff8d"/></linearGradient>
<linearGradient id="g142" gradientUnits="userSpaceOnUse" x1="158.59" y1="1163.97" x2="104.30" y2="1163.97"><stop offset="0.0000" stop-color="#00d8ff"/><stop offset="0.2558" stop-color="#00ffff"/><stop offset="1.0000" stop-color="#00ff8d"/></linearGradient>
<linearGradient id="g143" gradientUnits="userSpaceOnUse" x1="169.31" y1="1156.50" x2="216.39" y2="1138.08"><stop offset="0.0000" stop-color="#0053ff"/><stop offset="0.1812" stop-color="#0080ff"/><stop offset="0.6957" stop-color="#00ffff"/><stop offset="1.0000" stop-color="#00ffb4"/></linearGradient>
<linearGradient id="g144" gradientUnits="userSpaceOnUse" x1="170.94" y1="1127.17" x2="180.21" y2="1186.50"><stop offset="0.0000" stop-color="#0053ff"/><stop offset="0.2907" stop-color="#0080ff"/><stop offset="1.0000" stop-color="#00edff"/></linearGradient>
<linearGradient id="g145" gradientUnits="userSpaceOnUse" x1="238.89" y1="1119.36" x2="262.76" y2="1183.05"><stop offset="0.0000" stop-color="#00ffb4"/><stop offset="0.2900" stop-color="#00ff80"/><stop offset="1.0000" stop-color="#00ff00"/></linearGradient>
<linearGradient id="g146" gradientUnits="userSpaceOnUse" x1="209.41" y1="1171.63" x2="257.62" y2="1154.51"><stop offset="0.0000" stop-color="#00edff"/><stop offset="0.0658" stop-color="#00ffff"/><stop offset="0.5329" stop-color="#00ff80"/><stop offset="1.0000" stop-color="#00ff00"/></linearGradient>
<linearGradient id="g147" gradientUnits="userSpaceOnUse" x1="287.23" y1="1117.83" x2="322.60" y2="1180.76"><stop offset="0.0000" stop-color="#00ff82"/><stop offset="0.0263" stop-color="#00ff80"/><stop offset="1.0000" stop-color="#00ff3d"/></linearGradient>
<linearGradient id="g148" gradientUnits="userSpaceOnUse" x1="295.31" y1="1141.90" x2="275.59" y2="1185.23"><stop offset="0.0000" stop-color="#00ff82"/><stop offset="0.0139" stop-color="#00ff80"/><stop offset="1.0000" stop-color="#00ff00"/></linearGradient>
<linearGradient id="g149" gradientUnits="userSpaceOnUse" x1="369.96" y1="1125.68" x2="347.07" y2="1164.46"><stop offset="0.0000" stop-color="#00ffad"/><stop offset="0.4032" stop-color="#00ff80"/><stop offset="1.0000" stop-color="#00ff3d"/></linearGradient>
<linearGradient id="g150" gradientUnits="userSpaceOnUse" x1="339.56" y1="1129.10" x2="339.56" y2="1181.40"><stop offset="0.0000" stop-color="#00ff69"/><stop offset="1.0000" stop-color="#00ff3d"/></linearGradient>
<linearGradient id="g151" gradientUnits="userSpaceOnUse" x1="428.52" y1="1127.76" x2="402.57" y2="1157.14"><stop offset="0.0000" stop-color="#0065ff"/><stop offset="0.1042" stop-color="#0080ff"/><stop offset="0.5972" stop-color="#00ffff"/><stop offset="1.0000" stop-color="#00ff97"/></linearGradient>
<linearGradient id="g152" gradientUnits="userSpaceOnUse" x1="403.93" y1="1150.99" x2="378.59" y2="1183.61"><stop offset="0.0000" stop-color="#00ffad"/><stop offset="0.4032" stop-color="#00ff80"/><stop offset="1.0000" stop-color="#00ff3d"/></linearGradient>
<linearGradient id="g153" gradientUnits="userSpaceOnUse" x1="448.58" y1="1117.73" x2="486.71" y2="1179.94"><stop offset="0.0000" stop-color="#0065ff"/><stop offset="0.1042" stop-color="#0080ff"/><stop offset="0.5972" stop-color="#00ffff"/><stop offset="1.0000" stop-color="#00ff97"/></linearGradient>
<linearGradient id="g154" gradientUnits="userSpaceOnUse" x1="448.14" y1="1129.10" x2="448.14" y2="1181.40"><stop offset="0.0000" stop-color="#0065ff"/><stop offset="0.1042" stop-color="#0080ff"/><stop offset="0.5972" stop-color="#00ffff"/><stop offset="1.0000" stop-color="#00ff97"/></linearGradient>
<linearGradient id="g155" gradientUnits="userSpaceOnUse" x1="482.41" y1="1136.12" x2="546.23" y2="1153.55"><stop offset="0.0000" stop-color="#00c9ff"/><stop offset="0.2083" stop-color="#00ffff"/><stop offset="0.7014" stop-color="#00ff80"/><stop offset="1.0000" stop-color="#00ff32"/></linearGradient>
<linearGradient id="g156" gradientUnits="userSpaceOnUse" x1="481.95" y1="1130.56" x2="520.08" y2="1192.77"><stop offset="0.0000" stop-color="#00c9ff"/><stop offset="0.2083" stop-color="#00ffff"/><stop offset="0.7014" stop-color="#00ff80"/><stop offset="1.0000" stop-color="#00ff32"/></linearGradient>
<linearGradient id="g157" gradientUnits="userSpaceOnUse" x1="595.72" y1="1141.96" x2="543.91" y2="1153.29"><stop offset="0.0000" stop-color="#00ffad"/><stop offset="0.6579" stop-color="#00ff80"/><stop offset="1.0000" stop-color="#00ff69"/></linearGradient>
<linearGradient id="g158" gradientUnits="userSpaceOnUse" x1="578.10" y1="1152.87" x2="535.33" y2="1175.07"><stop offset="0.0000" stop-color="#00ff9e"/><stop offset="0.2833" stop-color="#00ff80"/><stop offset="1.0000" stop-color="#00ff32"/></linearGradient>
<linearGradient id="g159" gradientUnits="userSpaceOnUse" x1="657.36" y1="1159.87" x2="592.77" y2="1129.39"><stop offset="0.0000" stop-color="#00ffe6"/><stop offset="1.0000" stop-color="#00ffad"/></linearGradient>
<linearGradient id="g160" gradientUnits="userSpaceOnUse" x1="642.23" y1="1157.48" x2="590.19" y2="1168.29"><stop offset="0.0000" stop-color="#00ffe6"/><stop offset="1.0000" stop-color="#00ff9e"/></linearGradient>
<linearGradient id="g161" gradientUnits="userSpaceOnUse" x1="160.69" y1="1195.91" x2="107.52" y2="1203.61"><stop offset="0.0000" stop-color="#00d8ff"/><stop offset="0.2558" stop-color="#00ffff"/><stop offset="1.0000" stop-color="#00ff8d"/></linearGradient>
<linearGradient id="g162" gradientUnits="userSpaceOnUse" x1="144.71" y1="1205.35" x2="100.91" y2="1226.78"><stop offset="0.0000" stop-color="#00edff"/><stop offset="0.0714" stop-color="#00ffff"/><stop offset="0.5786" stop-color="#00ff80"/><stop offset="1.0000" stop-color="#00ff16"/></linearGradient>
<linearGradient id="g163" gradientUnits="userSpaceOnUse" x1="158.59" y1="1198.83" x2="212.88" y2="1198.83"><stop offset="0.0000" stop-color="#00d8ff"/><stop offset="1.0000" stop-color="#00edff"/></linearGradient>
<linearGradient id="g164" gradientUnits="userSpaceOnUse" x1="176.69" y1="1181.40" x2="176.69" y2="1233.70"><stop offset="0.0000" stop-color="#00d8ff"/><stop offset="1.0000" stop-color="#00edff"/></linearGradient>
<linearGradient id="g165" gradientUnits="userSpaceOnUse" x1="223.76" y1="1208.86" x2="270.68" y2="1190.27"><stop offset="0.0000" stop-color="#00edff"/><stop offset="0.0658" stop-color="#00ffff"/><stop offset="0.5329" stop-color="#00ff80"/><stop offset="1.0000" stop-color="#00ff00"/></linearGradient>
<linearGradient id="g166" gradientUnits="userSpaceOnUse" x1="212.88" y1="1216.27" x2="267.17" y2="1216.27"><stop offset="0.0000" stop-color="#00edff"/><stop offset="0.1064" stop-color="#00ffff"/><stop offset="0.8617" stop-color="#00ff80"/><stop offset="1.0000" stop-color="#00ff69"/></linearGradient>
<linearGradient id="g167" gradientUnits="userSpaceOnUse" x1="324.30" y1="1186.05" x2="284.75" y2="1210.20"><stop offset="0.0000" stop-color="#00ff3d"/><stop offset="1.0000" stop-color="#00ff00"/></linearGradient>
<linearGradient id="g168" gradientUnits="userSpaceOnUse" x1="270.66" y1="1236.25" x2="295.58" y2="1202.16"><stop offset="0.0000" stop-color="#00ff69"/><stop offset="1.0000" stop-color="#00ff00"/></linearGradient>
<linearGradient id="g169" gradientUnits="userSpaceOnUse" x1="357.65" y1="1233.70" x2="357.65" y2="1181.40"><stop offset="0.0000" stop-color="#00ff7b"/><stop offset="1.0000" stop-color="#00ff3d"/></linearGradient>
<linearGradient id="g170" gradientUnits="userSpaceOnUse" x1="365.25" y1="1206.39" x2="317.95" y2="1224.57"><stop offset="0.0000" stop-color="#00ff7b"/><stop offset="1.0000" stop-color="#00ff19"/></linearGradient>
<linearGradient id="g171" gradientUnits="userSpaceOnUse" x1="430.04" y1="1198.83" x2="375.75" y2="1198.83"><stop offset="0.0000" stop-color="#00ff97"/><stop offset="0.2600" stop-color="#00ff80"/><stop offset="1.0000" stop-color="#00ff3d"/></linearGradient>
<linearGradient id="g172" gradientUnits="userSpaceOnUse" x1="406.57" y1="1244.34" x2="377.65" y2="1180.54"><stop offset="0.0000" stop-color="#00ff97"/><stop offset="0.2600" stop-color="#00ff80"/><stop offset="1.0000" stop-color="#00ff3d"/></linearGradient>
<linearGradient id="g173" gradientUnits="userSpaceOnUse" x1="466.23" y1="1181.40" x2="466.23" y2="1233.70"><stop offset="0.0000" stop-color="#00ff97"/><stop offset="0.4063" stop-color="#00ff80"/><stop offset="1.0000" stop-color="#00ff5e"/></linearGradient>
<linearGradient id="g174" gradientUnits="userSpaceOnUse" x1="430.04" y1="1216.27" x2="484.33" y2="1216.27"><stop offset="0.0000" stop-color="#00ff97"/><stop offset="0.4063" stop-color="#00ff80"/><stop offset="1.0000" stop-color="#00ff5e"/></linearGradient>
<linearGradient id="g175" gradientUnits="userSpaceOnUse" x1="516.55" y1="1175.83" x2="526.90" y2="1235.73"><stop offset="0.0000" stop-color="#00ff97"/><stop offset="0.0353" stop-color="#00ff80"/><stop offset="0.2283" stop-color="#00ff00"/><stop offset="0.4212" stop-color="#80ff00"/><stop offset="0.6141" stop-color="#ffff00"/><stop offset="0.8071" stop-color="#ff8000"/><stop offset="1.0000" stop-color="#ff0000"/></linearGradient>
<linearGradient id="g176" gradientUnits="userSpaceOnUse" x1="481.09" y1="1214.16" x2="539.98" y2="1219.98"><stop offset="0.0000" stop-color="#00ff97"/><stop offset="0.0353" stop-color="#00ff80"/><stop offset="0.2283" stop-color="#00ff00"/><stop offset="0.4212" stop-color="#80ff00"/><stop offset="0.6141" stop-color="#ffff00"/><stop offset="0.8071" stop-color="#ff8000"/><stop offset="1.0000" stop-color="#ff0000"/></linearGradient>
<linearGradient id="g177" gradientUnits="userSpaceOnUse" x1="592.91" y1="1198.83" x2="538.62" y2="1198.83"><stop offset="0.0000" stop-color="#00ff9e"/><stop offset="0.2833" stop-color="#00ff80"/><stop offset="1.0000" stop-color="#00ff32"/></linearGradient>
<linearGradient id="g178" gradientUnits="userSpaceOnUse" x1="568.67" y1="1205.86" x2="537.79" y2="1232.75"><stop offset="0.0000" stop-color="#00ff9e"/><stop offset="0.0457" stop-color="#00ff80"/><stop offset="0.2366" stop-color="#00ff00"/><stop offset="0.4274" stop-color="#80ff00"/><stop offset="0.6183" stop-color="#ffff00"/><stop offset="0.8091" stop-color="#ff8000"/><stop offset="1.0000" stop-color="#ff0000"/></linearGradient>
<linearGradient id="g179" gradientUnits="userSpaceOnUse" x1="646.14" y1="1234.21" x2="615.47" y2="1170.53"><stop offset="0.0000" stop-color="#0089ff"/><stop offset="0.5500" stop-color="#00ffff"/><stop offset="1.0000" stop-color="#00ff9e"/></linearGradient>
<linearGradient id="g180" gradientUnits="userSpaceOnUse" x1="647.20" y1="1216.27" x2="592.91" y2="1216.27"><stop offset="0.0000" stop-color="#0089ff"/><stop offset="0.5500" stop-color="#00ffff"/><stop offset="1.0000" stop-color="#00ff9e"/></linearGradient>
<linearGradient id="g181" gradientUnits="userSpaceOnUse" x1="159.78" y1="1249.70" x2="105.78" y2="1253.71"><stop offset="0.0000" stop-color="#00edff"/><stop offset="0.0714" stop-color="#00ffff"/><stop offset="0.5786" stop-color="#00ff80"/><stop offset="1.0000" stop-color="#00ff16"/></linearGradient>
<linearGradient id="g182" gradientUnits="userSpaceOnUse" x1="147.96" y1="1295.93" x2="96.57" y2="1240.92"><stop offset="0.0000" stop-color="#00ffff"/><stop offset="0.5462" stop-color="#00ff80"/><stop offset="1.0000" stop-color="#00ff16"/></linearGradient>
<linearGradient id="g183" gradientUnits="userSpaceOnUse" x1="194.78" y1="1233.70" x2="194.78" y2="1286.00"><stop offset="0.0000" stop-color="#00edff"/><stop offset="1.0000" stop-color="#00ffff"/></linearGradient>
<linearGradient id="g184" gradientUnits="userSpaceOnUse" x1="176.69" y1="1233.70" x2="176.69" y2="1286.00"><stop offset="0.0000" stop-color="#00edff"/><stop offset="1.0000" stop-color="#00ffff"/></linearGradient>
<linearGradient id="g185" gradientUnits="userSpaceOnUse" x1="231.95" y1="1262.48" x2="269.68" y2="1237.48"><stop offset="0.0000" stop-color="#00edff"/><stop offset="0.1064" stop-color="#00ffff"/><stop offset="0.8617" stop-color="#00ff80"/><stop offset="1.0000" stop-color="#00ff69"/></linearGradient>
<linearGradient id="g186" gradientUnits="userSpaceOnUse" x1="203.03" y1="1256.48" x2="267.82" y2="1284.50"><stop offset="0.0000" stop-color="#00edff"/><stop offset="0.2941" stop-color="#00ffff"/><stop offset="1.0000" stop-color="#00ffd4"/></linearGradient>
<linearGradient id="g187" gradientUnits="userSpaceOnUse" x1="296.65" y1="1280.28" x2="308.09" y2="1230.62"><stop offset="0.0000" stop-color="#009bff"/><stop offset="0.3043" stop-color="#00ffff"/><stop offset="0.6902" stop-color="#00ff80"/><stop offset="1.0000" stop-color="#00ff19"/></linearGradient>
<linearGradient id="g188" gradientUnits="userSpaceOnUse" x1="316.25" y1="1292.69" x2="257.10" y2="1246.64"><stop offset="0.0000" stop-color="#009bff"/><stop offset="0.4000" stop-color="#00ffff"/><stop offset="0.9071" stop-color="#00ff80"/><stop offset="1.0000" stop-color="#00ff69"/></linearGradient>
<linearGradient id="g189" gradientUnits="userSpaceOnUse" x1="386.24" y1="1266.52" x2="322.31" y2="1232.11"><stop offset="0.0000" stop-color="#00ffad"/><stop offset="0.3049" stop-color="#00ff80"/><stop offset="1.0000" stop-color="#00ff19"/></linearGradient>
<linearGradient id="g190" gradientUnits="userSpaceOnUse" x1="328.30" y1="1289.65" x2="350.03" y2="1248.96"><stop offset="0.0000" stop-color="#009bff"/><stop offset="0.3043" stop-color="#00ffff"/><stop offset="0.6902" stop-color="#00ff80"/><stop offset="1.0000" stop-color="#00ff19"/></linearGradient>
<linearGradient id="g191" gradientUnits="userSpaceOnUse" x1="417.68" y1="1230.30" x2="404.30" y2="1278.91"><stop offset="0.0000" stop-color="#00ff97"/><stop offset="0.2321" stop-color="#00ff80"/><stop offset="1.0000" stop-color="#00ff32"/></linearGradient>
<linearGradient id="g192" gradientUnits="userSpaceOnUse" x1="372.25" y1="1277.80" x2="418.15" y2="1258.18"><stop offset="0.0000" stop-color="#00ffad"/><stop offset="0.3676" stop-color="#00ff80"/><stop offset="1.0000" stop-color="#00ff32"/></linearGradient>
<linearGradient id="g193" gradientUnits="userSpaceOnUse" x1="431.65" y1="1230.94" x2="494.91" y2="1267.88"><stop offset="0.0000" stop-color="#00ff97"/><stop offset="0.2600" stop-color="#00ff80"/><stop offset="1.0000" stop-color="#00ff3d"/></linearGradient>
<linearGradient id="g194" gradientUnits="userSpaceOnUse" x1="451.51" y1="1235.92" x2="446.17" y2="1287.66"><stop offset="0.0000" stop-color="#00ff97"/><stop offset="0.2321" stop-color="#00ff80"/><stop offset="1.0000" stop-color="#00ff32"/></linearGradient>
<linearGradient id="g195" gradientUnits="userSpaceOnUse" x1="510.82" y1="1260.66" x2="538.45" y2="1233.52"><stop offset="0.0000" stop-color="#00ff5e"/><stop offset="0.1548" stop-color="#00ff00"/><stop offset="0.3661" stop-color="#80ff00"/><stop offset="0.5774" stop-color="#ffff00"/><stop offset="0.7887" stop-color="#ff8000"/><stop offset="1.0000" stop-color="#ff0000"/></linearGradient>
<linearGradient id="g196" gradientUnits="userSpaceOnUse" x1="502.43" y1="1233.70" x2="502.43" y2="1286.00"><stop offset="0.0000" stop-color="#00ff5e"/><stop offset="1.0000" stop-color="#00ff3d"/></linearGradient>
<linearGradient id="g197" gradientUnits="userSpaceOnUse" x1="597.65" y1="1254.57" x2="536.85" y2="1245.41"><stop offset="0.0000" stop-color="#00ffff"/><stop offset="0.1667" stop-color="#00ff80"/><stop offset="0.3333" stop-color="#00ff00"/><stop offset="0.5000" stop-color="#80ff00"/><stop offset="0.6667" stop-color="#ffff00"/><stop offset="0.8333" stop-color="#ff8000"/><stop offset="1.0000" stop-color="#ff0000"/></linearGradient>
<linearGradient id="g198" gradientUnits="userSpaceOnUse" x1="565.37" y1="1295.01" x2="544.66" y2="1231.72"><stop offset="0.0000" stop-color="#00ffff"/><stop offset="0.1667" stop-color="#00ff80"/><stop offset="0.3333" stop-color="#00ff00"/><stop offset="0.5000" stop-color="#80ff00"/><stop offset="0.6667" stop-color="#ffff00"/><stop offset="0.8333" stop-color="#ff8000"/><stop offset="1.0000" stop-color="#ff0000"/></linearGradient>
<linearGradient id="g199" gradientUnits="userSpaceOnUse" x1="639.75" y1="1229.95" x2="618.76" y2="1271.71"><stop offset="0.0000" stop-color="#0089ff"/><stop offset="0.2870" stop-color="#00ffff"/><stop offset="0.5957" stop-color="#00ff80"/><stop offset="0.9043" stop-color="#00ff00"/><stop offset="1.0000" stop-color="#28ff00"/></linearGradient>
<linearGradient id="g200" gradientUnits="userSpaceOnUse" x1="589.47" y1="1275.93" x2="638.08" y2="1259.31"><stop offset="0.0000" stop-color="#00ffff"/><stop offset="0.4329" stop-color="#00ff80"/><stop offset="0.8659" stop-color="#00ff00"/><stop offset="1.0000" stop-color="#28ff00"/></linearGradient>
<linearGradient id="cbg" x1="0" y1="1" x2="0" y2="0"><stop offset="0.0000" stop-color="#0000ff"/><stop offset="0.1250" stop-color="#0080ff"/><stop offset="0.2500" stop-color="#00ffff"/><stop offset="0.3750" stop-color="#00ff80"/><stop offset="0.5000" stop-color="#00ff00"/><stop offset="0.6250" stop-color="#80ff00"/><stop offset="0.7500" stop-color="#ffff00"/><stop offset="0.8750" stop-color="#ff8000"/><stop offset="1.0000" stop-color="#ff0000"/></linearGradient></defs>
<rect width="850" height="1436" fill="#fff"/>

<g font-family="Liberation Sans, sans-serif" font-size="32" fill="#000">
<text x="462.4" y="26.3" text-anchor="middle" font-size="32.6">Relaxed Ge</text>
<clipPath id="cp"><rect x="158.0" y="39.0" width="599.0" height="483.0"/></clipPath>
<rect x="214.9" y="39.0" width="6" height="17.0"/>
<rect x="214.9" y="505.0" width="6" height="17.0"/>
<rect x="274.8" y="39.0" width="6" height="8.5"/>
<rect x="274.8" y="513.5" width="6" height="8.5"/>
<rect x="334.7" y="39.0" width="6" height="17.0"/>
<rect x="334.7" y="505.0" width="6" height="17.0"/>
<rect x="394.6" y="39.0" width="6" height="8.5"/>
<rect x="394.6" y="513.5" width="6" height="8.5"/>
<rect x="454.5" y="39.0" width="6" height="17.0"/>
<rect x="454.5" y="505.0" width="6" height="17.0"/>
<rect x="514.4" y="39.0" width="6" height="8.5"/>
<rect x="514.4" y="513.5" width="6" height="8.5"/>
<rect x="574.3" y="39.0" width="6" height="17.0"/>
<rect x="574.3" y="505.0" width="6" height="17.0"/>
<rect x="634.2" y="39.0" width="6" height="8.5"/>
<rect x="634.2" y="513.5" width="6" height="8.5"/>
<rect x="694.1" y="39.0" width="6" height="17.0"/>
<rect x="694.1" y="505.0" width="6" height="17.0"/>
<rect x="158.0" y="473.0" width="8.5" height="6"/>
<rect x="748.5" y="473.0" width="8.5" height="6"/>
<rect x="158.0" y="427.0" width="17.0" height="6"/>
<rect x="740.0" y="427.0" width="17.0" height="6"/>
<rect x="158.0" y="381.1" width="8.5" height="6"/>
<rect x="748.5" y="381.1" width="8.5" height="6"/>
<rect x="158.0" y="335.1" width="17.0" height="6"/>
<rect x="740.0" y="335.1" width="17.0" height="6"/>
<rect x="158.0" y="289.1" width="8.5" height="6"/>
<rect x="748.5" y="289.1" width="8.5" height="6"/>
<rect x="158.0" y="243.1" width="17.0" height="6"/>
<rect x="740.0" y="243.1" width="17.0" height="6"/>
<rect x="158.0" y="197.1" width="8.5" height="6"/>
<rect x="748.5" y="197.1" width="8.5" height="6"/>
<rect x="158.0" y="151.2" width="17.0" height="6"/>
<rect x="740.0" y="151.2" width="17.0" height="6"/>
<rect x="158.0" y="105.2" width="8.5" height="6"/>
<rect x="748.5" y="105.2" width="8.5" height="6"/>
<rect x="158.0" y="59.2" width="17.0" height="6"/>
<rect x="740.0" y="59.2" width="17.0" height="6"/>
<rect x="158.0" y="39.0" width="599.0" height="483.0" fill="none" stroke="#000" stroke-width="5.8"/>
<g clip-path="url(#cp)">
<polygon fill="#000000" points="150.3,508.0 191.3,507.4 214.8,506.6 234.8,505.4 279.8,501.4 319.8,497.2 333.8,495.4 345.8,493.1 357.3,490.3 367.8,487.0 386.8,479.1 399.3,475.1 411.8,469.4 420.3,464.3 426.3,459.7 434.8,451.4 443.8,441.0 448.3,434.9 453.8,426.1 457.3,419.3 460.8,411.1 466.3,396.0 471.3,380.5 474.8,367.6 477.8,353.9 481.3,330.1 490.3,255.5 497.8,204.8 503.8,142.0 509.3,94.0 511.8,78.7 513.8,69.6 517.3,60.1 519.3,56.9 520.3,56.5 531.3,56.5 532.8,57.5 534.8,61.3 537.8,69.6 539.8,78.6 542.3,94.8 544.3,114.1 548.8,166.9 557.3,281.4 559.8,306.9 563.3,335.0 573.8,400.4 576.8,416.7 580.3,431.0 582.8,439.4 587.3,451.0 591.3,459.4 594.3,464.5 597.8,469.0 602.3,473.4 605.3,475.7 608.8,477.8 635.3,490.8 640.8,493.1 648.3,495.5 657.3,497.5 663.8,498.5 686.8,501.1 731.8,505.3 764.3,507.1 764.3,518.5 750.3,518.5 740.3,518.0 706.3,515.5 660.8,510.9 648.8,509.3 640.3,507.7 631.8,505.2 626.3,503.1 613.8,497.2 597.8,489.2 594.3,487.1 591.3,484.8 586.8,480.4 583.3,475.9 580.3,470.8 576.3,462.4 571.8,450.8 569.3,442.4 565.8,428.1 562.8,411.8 552.3,346.4 549.3,322.7 546.8,298.6 537.3,171.9 532.8,120.2 529.8,95.8 527.8,85.1 525.8,78.0 523.3,87.5 519.8,109.0 514.8,153.4 508.8,216.2 501.3,266.9 492.3,341.5 488.8,365.3 485.8,379.0 482.3,391.9 477.3,407.4 471.8,422.5 467.3,432.8 462.8,440.9 456.8,449.8 450.3,457.8 444.3,464.4 437.3,471.1 429.3,477.0 419.3,482.6 408.8,487.1 397.8,490.5 378.8,498.4 368.3,501.7 356.8,504.5 344.8,506.8 330.8,508.6 290.8,512.8 245.8,516.8 225.8,518.0 195.3,519.0 150.3,519.4"/>
<polygon fill="#0000ff" points="150.3,507.5 185.8,507.1 226.8,505.4 300.8,499.1 326.8,496.4 342.3,494.2 349.3,492.7 353.3,491.4 370.8,482.3 374.8,478.9 385.3,465.6 396.8,445.9 402.3,434.4 404.8,428.1 407.3,419.8 410.8,405.3 418.3,366.9 421.8,344.3 424.3,320.9 430.8,235.9 439.3,111.5 442.8,72.5 444.8,61.2 446.3,56.7 457.8,56.5 459.3,59.2 460.8,64.9 462.3,72.6 463.3,81.7 466.3,118.9 473.3,222.4 477.3,275.6 481.8,324.5 487.3,370.3 489.8,384.4 494.8,408.2 501.8,435.1 507.8,452.1 510.8,458.4 516.8,468.5 522.3,475.7 526.8,480.2 533.3,484.8 539.8,488.3 566.8,499.3 572.8,501.4 586.3,504.9 597.3,507.1 604.8,508.0 622.3,509.1 658.8,510.5 710.8,511.1 764.3,511.2 764.3,522.6 716.3,522.6 647.8,521.9 611.3,520.5 593.8,519.4 586.3,518.5 575.3,516.3 561.8,512.8 531.8,501.1 522.8,496.5 517.3,492.8 512.3,488.2 508.3,483.4 502.8,475.1 498.3,466.8 495.3,459.8 492.3,451.3 487.8,435.9 483.8,419.6 478.8,395.8 476.3,381.7 471.3,340.6 466.8,293.0 462.8,240.9 454.8,123.5 452.8,98.8 452.3,98.6 449.8,129.7 441.8,247.3 435.3,332.3 433.8,347.7 431.8,362.9 429.3,378.3 423.8,407.2 419.8,425.4 416.3,438.0 413.3,445.8 407.8,457.3 397.8,474.7 395.3,478.4 385.8,490.3 381.8,493.7 375.8,497.1 362.8,503.4 350.3,506.1 337.8,507.8 311.8,510.5 230.3,517.3 188.8,518.7 150.3,518.9"/>
<polygon fill="#00ff00" points="150.3,505.4 182.3,505.1 219.8,503.7 254.3,500.0 309.3,495.1 324.3,492.6 345.3,487.1 351.3,485.0 354.3,483.5 365.8,476.7 370.8,472.8 376.3,467.2 382.8,458.6 390.3,445.8 394.3,437.5 398.3,427.8 402.3,415.0 405.3,403.6 411.8,372.9 417.3,334.9 422.3,288.9 429.8,194.9 434.8,118.8 438.8,73.7 441.3,60.1 442.8,56.5 453.8,56.5 454.8,57.7 455.3,59.3 456.8,66.5 457.8,72.3 459.3,86.4 461.8,116.5 469.3,223.9 473.3,275.4 477.8,322.8 483.3,370.0 489.3,404.1 494.3,424.8 497.8,435.1 501.8,444.6 506.3,453.2 511.3,461.0 516.3,467.8 524.3,476.7 530.8,481.8 540.3,487.4 547.3,490.7 560.8,495.8 593.3,504.9 601.8,506.7 624.3,508.5 658.8,510.0 704.8,510.6 764.3,510.8 764.3,522.2 651.8,521.5 620.3,520.3 590.8,518.1 582.3,516.3 549.8,507.2 543.8,505.1 531.3,499.8 521.8,494.5 514.3,489.0 509.3,484.0 503.3,476.6 497.3,467.9 493.3,461.0 489.3,452.6 484.3,439.4 481.3,428.8 478.8,417.9 472.8,384.9 467.3,338.9 462.3,286.8 458.3,235.3 450.8,127.9 448.3,100.0 445.3,137.0 440.8,206.3 433.8,294.7 429.8,334.1 424.8,371.9 422.3,387.1 418.3,406.5 414.8,420.9 410.8,434.7 406.8,445.5 401.3,457.2 396.8,465.3 390.8,474.2 385.8,480.3 381.8,484.2 377.8,487.4 363.8,495.7 355.3,498.8 337.8,503.4 327.8,505.5 312.3,507.3 274.8,510.5 227.8,515.3 188.8,516.6 150.3,516.8"/>
<polygon fill="#ff0000" points="150.3,505.2 159.8,505.0 181.8,503.7 219.8,500.4 304.3,489.8 318.8,487.2 329.3,484.0 343.8,478.8 351.8,474.8 354.3,472.7 362.8,463.9 370.3,455.3 373.8,450.5 378.3,442.6 382.8,433.1 386.3,423.8 389.8,412.2 393.3,398.3 397.8,377.4 403.3,343.8 407.8,310.5 411.3,278.9 421.8,166.6 426.8,96.0 428.3,80.2 429.8,69.4 431.8,59.8 433.3,56.5 444.3,56.5 445.3,57.5 445.8,58.9 447.8,68.0 450.3,88.0 452.8,116.4 463.8,261.8 474.8,374.6 476.8,382.9 480.3,390.2 481.8,394.4 485.8,420.0 486.8,424.0 488.3,426.1 491.8,428.9 493.8,432.2 502.3,458.0 505.3,463.9 507.8,467.8 512.3,473.7 518.3,479.6 524.3,484.2 531.3,488.0 541.3,491.7 563.3,497.9 571.3,500.0 583.8,502.4 596.8,504.3 610.3,505.6 677.8,509.7 764.3,510.3 764.3,521.7 704.8,521.6 666.8,521.1 599.3,517.0 577.8,514.6 558.3,510.9 530.3,503.1 520.3,499.4 513.3,495.6 507.3,491.0 502.3,486.2 498.8,482.0 494.3,475.3 491.8,470.6 482.8,443.6 480.8,440.3 477.3,437.5 475.8,435.4 474.8,431.4 470.8,405.8 469.3,401.6 465.8,394.3 463.8,386.0 453.8,284.8 449.8,236.0 441.8,127.8 438.8,96.5 436.8,119.6 432.8,178.0 422.3,290.3 418.3,325.9 413.3,362.0 408.3,391.3 404.3,409.7 400.3,425.4 397.3,435.2 393.8,444.5 388.3,455.9 383.3,464.1 372.8,476.4 362.8,486.2 358.3,488.7 351.8,491.3 334.8,497.2 326.3,499.4 313.8,501.4 222.8,512.6 178.8,516.0 165.8,516.6 150.3,516.6"/>
<polygon fill="#ff00ff" points="150.3,482.4 165.3,481.1 181.8,478.8 199.8,475.7 220.3,471.6 248.3,464.1 279.3,454.8 300.8,449.8 309.3,447.4 318.3,443.7 325.8,438.7 341.3,425.9 345.8,421.3 349.8,416.3 353.3,410.3 366.3,384.3 369.8,375.8 375.8,354.2 387.3,304.0 393.3,272.7 398.3,241.5 403.3,201.3 410.8,133.9 417.3,88.8 420.3,72.4 423.8,61.5 425.3,58.2 426.3,56.9 427.3,56.5 438.3,56.5 439.3,57.1 440.8,59.7 445.3,72.9 448.3,86.6 451.3,104.2 453.8,122.9 459.3,171.2 465.8,239.8 467.8,253.5 473.8,286.5 478.3,325.5 481.3,343.3 492.3,388.6 497.8,406.4 501.8,417.0 505.8,426.0 511.3,436.4 516.8,445.0 521.3,450.6 525.3,454.6 537.8,466.8 544.3,472.1 551.3,476.2 560.3,480.1 574.8,484.5 582.3,487.2 588.3,488.8 598.8,490.8 612.8,492.8 681.3,500.4 717.3,502.4 764.3,503.0 764.3,514.4 709.8,513.9 670.3,511.8 601.8,504.2 587.8,502.2 577.3,500.2 551.3,492.2 544.3,489.5 538.8,486.8 531.3,482.1 526.8,478.2 510.3,462.0 507.3,458.4 501.3,449.5 496.3,440.4 491.8,430.8 486.8,417.8 481.3,400.0 470.3,354.7 467.3,336.9 462.8,297.9 456.8,264.9 454.8,251.2 448.3,182.6 441.3,122.5 436.8,95.4 434.8,86.2 432.8,79.5 431.3,83.8 429.8,91.1 423.8,130.3 419.8,161.5 414.3,212.7 409.3,252.9 404.3,284.1 398.3,315.4 386.8,365.6 380.8,387.2 377.3,395.7 364.3,421.7 360.8,427.7 356.8,432.7 352.3,437.3 336.8,450.1 329.3,455.1 320.3,458.8 311.8,461.2 290.3,466.2 254.3,476.9 226.3,484.1 201.3,488.8 180.3,492.0 163.3,493.8 150.3,493.8"/>
<polygon fill="#cc9600" points="150.3,494.6 165.3,494.1 180.8,493.0 214.8,489.4 242.3,484.6 276.3,480.1 293.8,476.7 303.3,474.3 312.8,471.4 318.8,469.1 326.3,465.3 335.3,459.7 341.8,454.8 348.8,448.2 353.8,442.3 357.8,436.6 365.8,422.9 370.8,411.5 380.3,386.6 382.8,378.2 384.8,369.6 392.8,322.6 397.8,285.8 406.3,201.2 414.8,111.2 419.3,73.7 421.8,62.7 423.3,58.1 424.3,56.6 435.8,56.5 436.8,57.6 437.8,60.1 440.3,69.8 442.8,86.4 446.3,118.5 459.8,261.9 473.3,373.6 474.8,381.2 479.3,395.4 484.8,420.7 487.3,429.6 491.8,443.0 494.3,448.0 495.8,450.1 502.8,457.6 512.3,470.6 515.3,473.5 521.3,478.2 528.3,482.4 536.8,486.0 565.8,494.9 574.8,498.4 577.3,500.4 579.8,508.1 581.3,504.1 582.8,502.0 594.3,502.0 646.3,505.8 685.3,506.6 718.8,508.0 764.3,508.2 764.3,519.6 707.8,519.4 674.3,518.0 638.3,517.3 625.8,516.7 593.3,514.0 592.3,515.5 589.8,521.9 588.8,522.9 570.3,522.8 569.3,521.0 566.3,511.8 563.8,509.8 554.8,506.3 525.8,497.4 517.3,493.8 510.3,489.6 504.3,484.9 501.3,482.0 491.8,469.0 484.8,461.5 483.3,459.4 480.8,454.4 475.3,437.6 472.8,427.7 468.8,408.8 463.8,392.6 462.3,385.0 457.8,345.8 452.3,304.2 449.3,278.0 445.3,238.6 434.8,124.8 430.3,86.5 428.8,95.9 425.8,122.6 409.3,292.9 405.3,323.9 399.3,361.9 394.8,385.5 390.3,400.9 381.8,422.9 377.8,432.2 372.3,442.4 367.8,449.5 361.8,457.4 356.8,462.6 350.3,468.2 342.3,473.7 335.3,477.8 329.8,480.5 319.8,484.1 309.8,486.9 287.3,491.5 259.3,495.1 232.8,499.8 220.8,501.4 181.3,505.2 163.8,506.0 150.3,506.0"/>
<line x1="465.9" y1="41.5" x2="465.9" y2="519" stroke="#000" stroke-width="7.5" stroke-dasharray="7.4 8.1" stroke-dashoffset="0"/>
</g>
<text x="139.3" y="531.9" text-anchor="end" font-size="33">0.0</text>
<text x="139.3" y="439.9" text-anchor="end" font-size="33">0.2</text>
<text x="139.3" y="348.0" text-anchor="end" font-size="33">0.4</text>
<text x="139.3" y="256.0" text-anchor="end" font-size="33">0.6</text>
<text x="139.3" y="164.1" text-anchor="end" font-size="33">0.8</text>
<text x="139.3" y="72.1" text-anchor="end" font-size="33">1.0</text>
<text x="217.9" y="566" text-anchor="middle" font-size="33">280</text>
<text x="337.7" y="566" text-anchor="middle" font-size="33">290</text>
<text x="457.5" y="566" text-anchor="middle" font-size="33">300</text>
<text x="577.3" y="566" text-anchor="middle" font-size="33">310</text>
<text x="697.1" y="566" text-anchor="middle" font-size="33">320</text>
<rect x="198" y="57.4" width="10.5" height="10.5" fill="#000000"/>
<text x="247" y="73.2">Initial</text>
<rect x="198" y="96.2" width="10.5" height="10.5" fill="#0000ff"/>
<text x="247" y="110.3">O<tspan dy="10" font-size="22">2</tspan><tspan dy="-10"> 0.5h</tspan></text>
<rect x="198" y="142.3" width="10.5" height="10.5" fill="#00ff00"/>
<text x="247" y="157.5">O<tspan dy="10" font-size="22">2</tspan><tspan dy="-10"> 1.5h</tspan></text>
<rect x="198" y="188.1" width="10.5" height="10.5" fill="#ff0000"/>
<text x="247" y="204.8">O<tspan dy="10" font-size="22">2</tspan><tspan dy="-10"> 1.5h</tspan></text>
<text x="247" y="249.6">+ N<tspan dy="10" font-size="22">2</tspan><tspan dy="-10"> 2h</tspan></text>
<rect x="198" y="280.5" width="10.5" height="10.5" fill="#ff00ff"/>
<text x="247" y="296.4">O<tspan dy="10" font-size="22">2</tspan><tspan dy="-10"> 3h</tspan></text>
<rect x="198" y="327.1" width="10.5" height="10.5" fill="#cc9600"/>
<text x="247" y="342.4">O<tspan dy="10" font-size="22">2</tspan><tspan dy="-10"> 2h</tspan></text>
<text x="247" y="387.5">+ N<tspan dy="10" font-size="22">2</tspan><tspan dy="-10"> 6h</tspan></text>
<text transform="translate(81.5,276.8) rotate(-90)" text-anchor="middle">Normalized Intensity</text>
<text x="459.6" y="603" text-anchor="middle" font-size="32.3">Raman Shift (cm<tspan dy="-13" font-size="20">-1</tspan><tspan dy="13">)</tspan></text>
<text x="10.3" y="668" font-size="33">(a)</text>
<text x="10.3" y="1419.7" font-size="33">(b)</text>
</g>


<g shape-rendering="crispEdges"><polygon points="104.30,763.00 158.59,763.00 158.59,815.30" fill="url(#g1)"/>
<polygon points="104.30,763.00 158.59,815.30 104.30,815.30" fill="url(#g2)"/>
<polygon points="158.59,763.00 212.88,763.00 212.88,815.30" fill="url(#g3)"/>
<polygon points="158.59,763.00 212.88,815.30 158.59,815.30" fill="url(#g4)"/>
<polygon points="212.88,763.00 267.17,763.00 267.17,815.30" fill="url(#g5)"/>
<polygon points="212.88,763.00 267.17,815.30 212.88,815.30" fill="url(#g6)"/>
<polygon points="267.17,763.00 321.46,763.00 321.46,815.30" fill="url(#g7)"/>
<polygon points="267.17,763.00 321.46,815.30 267.17,815.30" fill="url(#g8)"/>
<polygon points="321.46,763.00 375.75,763.00 375.75,815.30" fill="url(#g9)"/>
<polygon points="321.46,763.00 375.75,815.30 321.46,815.30" fill="url(#g10)"/>
<polygon points="375.75,763.00 430.04,763.00 430.04,815.30" fill="url(#g11)"/>
<polygon points="375.75,763.00 430.04,815.30 375.75,815.30" fill="url(#g12)"/>
<polygon points="430.04,763.00 484.33,763.00 484.33,815.30" fill="url(#g13)"/>
<polygon points="430.04,763.00 484.33,815.30 430.04,815.30" fill="url(#g14)"/>
<polygon points="484.33,763.00 538.62,763.00 538.62,815.30" fill="url(#g15)"/>
<polygon points="484.33,763.00 538.62,815.30 484.33,815.30" fill="url(#g16)"/>
<polygon points="538.62,763.00 592.91,763.00 592.91,815.30" fill="url(#g17)"/>
<polygon points="538.62,763.00 592.91,815.30 538.62,815.30" fill="url(#g18)"/>
<polygon points="592.91,763.00 647.20,763.00 647.20,815.30" fill="url(#g19)"/>
<polygon points="592.91,763.00 647.20,815.30 592.91,815.30" fill="url(#g20)"/>
<polygon points="104.30,815.30 158.59,815.30 158.59,867.60" fill="url(#g21)"/>
<polygon points="104.30,815.30 158.59,867.60 104.30,867.60" fill="url(#g22)"/>
<polygon points="158.59,815.30 212.88,815.30 212.88,867.60" fill="url(#g23)"/>
<polygon points="158.59,815.30 212.88,867.60 158.59,867.60" fill="url(#g24)"/>
<polygon points="212.88,815.30 267.17,815.30 267.17,867.60" fill="url(#g25)"/>
<polygon points="212.88,815.30 267.17,867.60 212.88,867.60" fill="url(#g26)"/>
<polygon points="267.17,815.30 321.46,815.30 321.46,867.60" fill="url(#g27)"/>
<polygon points="267.17,815.30 321.46,867.60 267.17,867.60" fill="url(#g28)"/>
<polygon points="321.46,815.30 375.75,815.30 375.75,867.60" fill="url(#g29)"/>
<polygon points="321.46,815.30 375.75,867.60 321.46,867.60" fill="url(#g30)"/>
<polygon points="375.75,815.30 430.04,815.30 430.04,867.60" fill="url(#g31)"/>
<polygon points="375.75,815.30 430.04,867.60 375.75,867.60" fill="url(#g32)"/>
<polygon points="430.04,815.30 484.33,815.30 484.33,867.60" fill="url(#g33)"/>
<polygon points="430.04,815.30 484.33,867.60 430.04,867.60" fill="url(#g34)"/>
<polygon points="484.33,815.30 538.62,815.30 538.62,867.60" fill="url(#g35)"/>
<polygon points="484.33,815.30 538.62,867.60 484.33,867.60" fill="url(#g36)"/>
<polygon points="538.62,815.30 592.91,815.30 592.91,867.60" fill="url(#g37)"/>
<polygon points="538.62,815.30 592.91,867.60 538.62,867.60" fill="url(#g38)"/>
<polygon points="592.91,815.30 647.20,815.30 647.20,867.60" fill="url(#g39)"/>
<polygon points="592.91,815.30 647.20,867.60 592.91,867.60" fill="url(#g40)"/>
<polygon points="104.30,867.60 158.59,867.60 158.59,919.90" fill="url(#g41)"/>
<polygon points="104.30,867.60 158.59,919.90 104.30,919.90" fill="url(#g42)"/>
<polygon points="158.59,867.60 212.88,867.60 212.88,919.90" fill="url(#g43)"/>
<polygon points="158.59,867.60 212.88,919.90 158.59,919.90" fill="url(#g44)"/>
<polygon points="212.88,867.60 267.17,867.60 267.17,919.90" fill="url(#g45)"/>
<polygon points="212.88,867.60 267.17,919.90 212.88,919.90" fill="url(#g46)"/>
<polygon points="267.17,867.60 321.46,867.60 321.46,919.90" fill="url(#g47)"/>
<polygon points="267.17,867.60 321.46,919.90 267.17,919.90" fill="url(#g48)"/>
<polygon points="321.46,867.60 375.75,867.60 375.75,919.90" fill="url(#g49)"/>
<polygon points="321.46,867.60 375.75,919.90 321.46,919.90" fill="url(#g50)"/>
<polygon points="375.75,867.60 430.04,867.60 430.04,919.90" fill="url(#g51)"/>
<polygon points="375.75,867.60 430.04,919.90 375.75,919.90" fill="url(#g52)"/>
<polygon points="430.04,867.60 484.33,867.60 484.33,919.90" fill="url(#g53)"/>
<polygon points="430.04,867.60 484.33,919.90 430.04,919.90" fill="url(#g54)"/>
<polygon points="484.33,867.60 538.62,867.60 538.62,919.90" fill="url(#g55)"/>
<polygon points="484.33,867.60 538.62,919.90 484.33,919.90" fill="url(#g56)"/>
<polygon points="538.62,867.60 592.91,867.60 592.91,919.90" fill="url(#g57)"/>
<polygon points="538.62,867.60 592.91,919.90 538.62,919.90" fill="url(#g58)"/>
<polygon points="592.91,867.60 647.20,867.60 647.20,919.90" fill="url(#g59)"/>
<polygon points="592.91,867.60 647.20,919.90 592.91,919.90" fill="url(#g60)"/>
<polygon points="104.30,919.90 158.59,919.90 158.59,972.20" fill="url(#g61)"/>
<polygon points="104.30,919.90 158.59,972.20 104.30,972.20" fill="url(#g62)"/>
<polygon points="158.59,919.90 212.88,919.90 212.88,972.20" fill="url(#g63)"/>
<polygon points="158.59,919.90 212.88,972.20 158.59,972.20" fill="url(#g64)"/>
<polygon points="212.88,919.90 267.17,919.90 267.17,972.20" fill="url(#g65)"/>
<polygon points="212.88,919.90 267.17,972.20 212.88,972.20" fill="url(#g66)"/>
<polygon points="267.17,919.90 321.46,919.90 321.46,972.20" fill="url(#g67)"/>
<polygon points="267.17,919.90 321.46,972.20 267.17,972.20" fill="url(#g68)"/>
<polygon points="321.46,919.90 375.75,919.90 375.75,972.20" fill="url(#g69)"/>
<polygon points="321.46,919.90 375.75,972.20 321.46,972.20" fill="url(#g70)"/>
<polygon points="375.75,919.90 430.04,919.90 430.04,972.20" fill="url(#g71)"/>
<polygon points="375.75,919.90 430.04,972.20 375.75,972.20" fill="url(#g72)"/>
<polygon points="430.04,919.90 484.33,919.90 484.33,972.20" fill="url(#g73)"/>
<polygon points="430.04,919.90 484.33,972.20 430.04,972.20" fill="url(#g74)"/>
<polygon points="484.33,919.90 538.62,919.90 538.62,972.20" fill="url(#g75)"/>
<polygon points="484.33,919.90 538.62,972.20 484.33,972.20" fill="url(#g76)"/>
<polygon points="538.62,919.90 592.91,919.90 592.91,972.20" fill="url(#g77)"/>
<polygon points="538.62,919.90 592.91,972.20 538.62,972.20" fill="url(#g78)"/>
<polygon points="592.91,919.90 647.20,919.90 647.20,972.20" fill="url(#g79)"/>
<polygon points="592.91,919.90 647.20,972.20 592.91,972.20" fill="url(#g80)"/>
<polygon points="104.30,972.20 158.59,972.20 158.59,1024.50" fill="url(#g81)"/>
<polygon points="104.30,972.20 158.59,1024.50 104.30,1024.50" fill="url(#g82)"/>
<polygon points="158.59,972.20 212.88,972.20 212.88,1024.50" fill="url(#g83)"/>
<polygon points="158.59,972.20 212.88,1024.50 158.59,1024.50" fill="url(#g84)"/>
<polygon points="212.88,972.20 267.17,972.20 267.17,1024.50" fill="url(#g85)"/>
<polygon points="212.88,972.20 267.17,1024.50 212.88,1024.50" fill="url(#g86)"/>
<polygon points="267.17,972.20 321.46,972.20 321.46,1024.50" fill="url(#g87)"/>
<polygon points="267.17,972.20 321.46,1024.50 267.17,1024.50" fill="url(#g88)"/>
<polygon points="321.46,972.20 375.75,972.20 375.75,1024.50" fill="url(#g89)"/>
<polygon points="321.46,972.20 375.75,1024.50 321.46,1024.50" fill="url(#g90)"/>
<polygon points="375.75,972.20 430.04,972.20 430.04,1024.50" fill="url(#g91)"/>
<polygon points="375.75,972.20 430.04,1024.50 375.75,1024.50" fill="url(#g92)"/>
<polygon points="430.04,972.20 484.33,972.20 484.33,1024.50" fill="url(#g93)"/>
<polygon points="430.04,972.20 484.33,1024.50 430.04,1024.50" fill="url(#g94)"/>
<polygon points="484.33,972.20 538.62,972.20 538.62,1024.50" fill="url(#g95)"/>
<polygon points="484.33,972.20 538.62,1024.50 484.33,1024.50" fill="url(#g96)"/>
<polygon points="538.62,972.20 592.91,972.20 592.91,1024.50" fill="url(#g97)"/>
<polygon points="538.62,972.20 592.91,1024.50 538.62,1024.50" fill="url(#g98)"/>
<polygon points="592.91,972.20 647.20,972.20 647.20,1024.50" fill="url(#g99)"/>
<polygon points="592.91,972.20 647.20,1024.50 592.91,1024.50" fill="url(#g100)"/>
<polygon points="104.30,1024.50 158.59,1024.50 158.59,1076.80" fill="url(#g101)"/>
<polygon points="104.30,1024.50 158.59,1076.80 104.30,1076.80" fill="url(#g102)"/>
<polygon points="158.59,1024.50 212.88,1024.50 212.88,1076.80" fill="url(#g103)"/>
<polygon points="158.59,1024.50 212.88,1076.80 158.59,1076.80" fill="url(#g104)"/>
<polygon points="212.88,1024.50 267.17,1024.50 267.17,1076.80" fill="url(#g105)"/>
<polygon points="212.88,1024.50 267.17,1076.80 212.88,1076.80" fill="url(#g106)"/>
<polygon points="267.17,1024.50 321.46,1024.50 321.46,1076.80" fill="url(#g107)"/>
<polygon points="267.17,1024.50 321.46,1076.80 267.17,1076.80" fill="url(#g108)"/>
<polygon points="321.46,1024.50 375.75,1024.50 375.75,1076.80" fill="url(#g109)"/>
<polygon points="321.46,1024.50 375.75,1076.80 321.46,1076.80" fill="url(#g110)"/>
<polygon points="375.75,1024.50 430.04,1024.50 430.04,1076.80" fill="url(#g111)"/>
<polygon points="375.75,1024.50 430.04,1076.80 375.75,1076.80" fill="url(#g112)"/>
<polygon points="430.04,1024.50 484.33,1024.50 484.33,1076.80" fill="url(#g113)"/>
<polygon points="430.04,1024.50 484.33,1076.80 430.04,1076.80" fill="url(#g114)"/>
<polygon points="484.33,1024.50 538.62,1024.50 538.62,1076.80" fill="url(#g115)"/>
<polygon points="484.33,1024.50 538.62,1076.80 484.33,1076.80" fill="url(#g116)"/>
<polygon points="538.62,1024.50 592.91,1024.50 592.91,1076.80" fill="url(#g117)"/>
<polygon points="538.62,1024.50 592.91,1076.80 538.62,1076.80" fill="url(#g118)"/>
<polygon points="592.91,1024.50 647.20,1024.50 647.20,1076.80" fill="url(#g119)"/>
<polygon points="592.91,1024.50 647.20,1076.80 592.91,1076.80" fill="url(#g120)"/>
<polygon points="104.30,1076.80 158.59,1076.80 158.59,1129.10" fill="url(#g121)"/>
<polygon points="104.30,1076.80 158.59,1129.10 104.30,1129.10" fill="url(#g122)"/>
<polygon points="158.59,1076.80 212.88,1076.80 212.88,1129.10" fill="url(#g123)"/>
<polygon points="158.59,1076.80 212.88,1129.10 158.59,1129.10" fill="url(#g124)"/>
<polygon points="212.88,1076.80 267.17,1076.80 267.17,1129.10" fill="url(#g125)"/>
<polygon points="212.88,1076.80 267.17,1129.10 212.88,1129.10" fill="url(#g126)"/>
<polygon points="267.17,1076.80 321.46,1076.80 321.46,1129.10" fill="url(#g127)"/>
<polygon points="267.17,1076.80 321.46,1129.10 267.17,1129.10" fill="url(#g128)"/>
<polygon points="321.46,1076.80 375.75,1076.80 375.75,1129.10" fill="url(#g129)"/>
<polygon points="321.46,1076.80 375.75,1129.10 321.46,1129.10" fill="url(#g130)"/>
<polygon points="375.75,1076.80 430.04,1076.80 430.04,1129.10" fill="url(#g131)"/>
<polygon points="375.75,1076.80 430.04,1129.10 375.75,1129.10" fill="url(#g132)"/>
<polygon points="430.04,1076.80 484.33,1076.80 484.33,1129.10" fill="url(#g133)"/>
<polygon points="430.04,1076.80 484.33,1129.10 430.04,1129.10" fill="url(#g134)"/>
<polygon points="484.33,1076.80 538.62,1076.80 538.62,1129.10" fill="url(#g135)"/>
<polygon points="484.33,1076.80 538.62,1129.10 484.33,1129.10" fill="url(#g136)"/>
<polygon points="538.62,1076.80 592.91,1076.80 592.91,1129.10" fill="url(#g137)"/>
<polygon points="538.62,1076.80 592.91,1129.10 538.62,1129.10" fill="url(#g138)"/>
<polygon points="592.91,1076.80 647.20,1076.80 647.20,1129.10" fill="url(#g139)"/>
<polygon points="592.91,1076.80 647.20,1129.10 592.91,1129.10" fill="url(#g140)"/>
<polygon points="104.30,1129.10 158.59,1129.10 158.59,1181.40" fill="url(#g141)"/>
<polygon points="104.30,1129.10 158.59,1181.40 104.30,1181.40" fill="url(#g142)"/>
<polygon points="158.59,1129.10 212.88,1129.10 212.88,1181.40" fill="url(#g143)"/>
<polygon points="158.59,1129.10 212.88,1181.40 158.59,1181.40" fill="url(#g144)"/>
<polygon points="212.88,1129.10 267.17,1129.10 267.17,1181.40" fill="url(#g145)"/>
<polygon points="212.88,1129.10 267.17,1181.40 212.88,1181.40" fill="url(#g146)"/>
<polygon points="267.17,1129.10 321.46,1129.10 321.46,1181.40" fill="url(#g147)"/>
<polygon points="267.17,1129.10 321.46,1181.40 267.17,1181.40" fill="url(#g148)"/>
<polygon points="321.46,1129.10 375.75,1129.10 375.75,1181.40" fill="url(#g149)"/>
<polygon points="321.46,1129.10 375.75,1181.40 321.46,1181.40" fill="url(#g150)"/>
<polygon points="375.75,1129.10 430.04,1129.10 430.04,1181.40" fill="url(#g151)"/>
<polygon points="375.75,1129.10 430.04,1181.40 375.75,1181.40" fill="url(#g152)"/>
<polygon points="430.04,1129.10 484.33,1129.10 484.33,1181.40" fill="url(#g153)"/>
<polygon points="430.04,1129.10 484.33,1181.40 430.04,1181.40" fill="url(#g154)"/>
<polygon points="484.33,1129.10 538.62,1129.10 538.62,1181.40" fill="url(#g155)"/>
<polygon points="484.33,1129.10 538.62,1181.40 484.33,1181.40" fill="url(#g156)"/>
<polygon points="538.62,1129.10 592.91,1129.10 592.91,1181.40" fill="url(#g157)"/>
<polygon points="538.62,1129.10 592.91,1181.40 538.62,1181.40" fill="url(#g158)"/>
<polygon points="592.91,1129.10 647.20,1129.10 647.20,1181.40" fill="url(#g159)"/>
<polygon points="592.91,1129.10 647.20,1181.40 592.91,1181.40" fill="url(#g160)"/>
<polygon points="104.30,1181.40 158.59,1181.40 158.59,1233.70" fill="url(#g161)"/>
<polygon points="104.30,1181.40 158.59,1233.70 104.30,1233.70" fill="url(#g162)"/>
<polygon points="158.59,1181.40 212.88,1181.40 212.88,1233.70" fill="url(#g163)"/>
<polygon points="158.59,1181.40 212.88,1233.70 158.59,1233.70" fill="url(#g164)"/>
<polygon points="212.88,1181.40 267.17,1181.40 267.17,1233.70" fill="url(#g165)"/>
<polygon points="212.88,1181.40 267.17,1233.70 212.88,1233.70" fill="url(#g166)"/>
<polygon points="267.17,1181.40 321.46,1181.40 321.46,1233.70" fill="url(#g167)"/>
<polygon points="267.17,1181.40 321.46,1233.70 267.17,1233.70" fill="url(#g168)"/>
<polygon points="321.46,1181.40 375.75,1181.40 375.75,1233.70" fill="url(#g169)"/>
<polygon points="321.46,1181.40 375.75,1233.70 321.46,1233.70" fill="url(#g170)"/>
<polygon points="375.75,1181.40 430.04,1181.40 430.04,1233.70" fill="url(#g171)"/>
<polygon points="375.75,1181.40 430.04,1233.70 375.75,1233.70" fill="url(#g172)"/>
<polygon points="430.04,1181.40 484.33,1181.40 484.33,1233.70" fill="url(#g173)"/>
<polygon points="430.04,1181.40 484.33,1233.70 430.04,1233.70" fill="url(#g174)"/>
<polygon points="484.33,1181.40 538.62,1181.40 538.62,1233.70" fill="url(#g175)"/>
<polygon points="484.33,1181.40 538.62,1233.70 484.33,1233.70" fill="url(#g176)"/>
<polygon points="538.62,1181.40 592.91,1181.40 592.91,1233.70" fill="url(#g177)"/>
<polygon points="538.62,1181.40 592.91,1233.70 538.62,1233.70" fill="url(#g178)"/>
<polygon points="592.91,1181.40 647.20,1181.40 647.20,1233.70" fill="url(#g179)"/>
<polygon points="592.91,1181.40 647.20,1233.70 592.91,1233.70" fill="url(#g180)"/>
<polygon points="104.30,1233.70 158.59,1233.70 158.59,1286.00" fill="url(#g181)"/>
<polygon points="104.30,1233.70 158.59,1286.00 104.30,1286.00" fill="url(#g182)"/>
<polygon points="158.59,1233.70 212.88,1233.70 212.88,1286.00" fill="url(#g183)"/>
<polygon points="158.59,1233.70 212.88,1286.00 158.59,1286.00" fill="url(#g184)"/>
<polygon points="212.88,1233.70 267.17,1233.70 267.17,1286.00" fill="url(#g185)"/>
<polygon points="212.88,1233.70 267.17,1286.00 212.88,1286.00" fill="url(#g186)"/>
<polygon points="267.17,1233.70 321.46,1233.70 321.46,1286.00" fill="url(#g187)"/>
<polygon points="267.17,1233.70 321.46,1286.00 267.17,1286.00" fill="url(#g188)"/>
<polygon points="321.46,1233.70 375.75,1233.70 375.75,1286.00" fill="url(#g189)"/>
<polygon points="321.46,1233.70 375.75,1286.00 321.46,1286.00" fill="url(#g190)"/>
<polygon points="375.75,1233.70 430.04,1233.70 430.04,1286.00" fill="url(#g191)"/>
<polygon points="375.75,1233.70 430.04,1286.00 375.75,1286.00" fill="url(#g192)"/>
<polygon points="430.04,1233.70 484.33,1233.70 484.33,1286.00" fill="url(#g193)"/>
<polygon points="430.04,1233.70 484.33,1286.00 430.04,1286.00" fill="url(#g194)"/>
<polygon points="484.33,1233.70 538.62,1233.70 538.62,1286.00" fill="url(#g195)"/>
<polygon points="484.33,1233.70 538.62,1286.00 484.33,1286.00" fill="url(#g196)"/>
<polygon points="538.62,1233.70 592.91,1233.70 592.91,1286.00" fill="url(#g197)"/>
<polygon points="538.62,1233.70 592.91,1286.00 538.62,1286.00" fill="url(#g198)"/>
<polygon points="592.91,1233.70 647.20,1233.70 647.20,1286.00" fill="url(#g199)"/>
<polygon points="592.91,1233.70 647.20,1286.00 592.91,1286.00" fill="url(#g200)"/></g>
<g stroke="#000" stroke-width="2"><rect x="104.3" y="763.0" width="542.9" height="523.0" fill="none" stroke="#000" stroke-width="2"/>
<line x1="94.3" y1="763.0" x2="104.3" y2="763.0"/>
<line x1="104.3" y1="1286.0" x2="104.3" y2="1296.0"/>
<line x1="99.3" y1="789.1" x2="104.3" y2="789.1"/>
<line x1="131.4" y1="1286.0" x2="131.4" y2="1291.0"/>
<line x1="94.3" y1="815.3" x2="104.3" y2="815.3"/>
<line x1="158.6" y1="1286.0" x2="158.6" y2="1296.0"/>
<line x1="99.3" y1="841.5" x2="104.3" y2="841.5"/>
<line x1="185.7" y1="1286.0" x2="185.7" y2="1291.0"/>
<line x1="94.3" y1="867.6" x2="104.3" y2="867.6"/>
<line x1="212.9" y1="1286.0" x2="212.9" y2="1296.0"/>
<line x1="99.3" y1="893.8" x2="104.3" y2="893.8"/>
<line x1="240.0" y1="1286.0" x2="240.0" y2="1291.0"/>
<line x1="94.3" y1="919.9" x2="104.3" y2="919.9"/>
<line x1="267.2" y1="1286.0" x2="267.2" y2="1296.0"/>
<line x1="99.3" y1="946.0" x2="104.3" y2="946.0"/>
<line x1="294.3" y1="1286.0" x2="294.3" y2="1291.0"/>
<line x1="94.3" y1="972.2" x2="104.3" y2="972.2"/>
<line x1="321.5" y1="1286.0" x2="321.5" y2="1296.0"/>
<line x1="99.3" y1="998.4" x2="104.3" y2="998.4"/>
<line x1="348.6" y1="1286.0" x2="348.6" y2="1291.0"/>
<line x1="94.3" y1="1024.5" x2="104.3" y2="1024.5"/>
<line x1="375.8" y1="1286.0" x2="375.8" y2="1296.0"/>
<line x1="99.3" y1="1050.7" x2="104.3" y2="1050.7"/>
<line x1="402.9" y1="1286.0" x2="402.9" y2="1291.0"/>
<line x1="94.3" y1="1076.8" x2="104.3" y2="1076.8"/>
<line x1="430.0" y1="1286.0" x2="430.0" y2="1296.0"/>
<line x1="99.3" y1="1103.0" x2="104.3" y2="1103.0"/>
<line x1="457.2" y1="1286.0" x2="457.2" y2="1291.0"/>
<line x1="94.3" y1="1129.1" x2="104.3" y2="1129.1"/>
<line x1="484.3" y1="1286.0" x2="484.3" y2="1296.0"/>
<line x1="99.3" y1="1155.2" x2="104.3" y2="1155.2"/>
<line x1="511.5" y1="1286.0" x2="511.5" y2="1291.0"/>
<line x1="94.3" y1="1181.4" x2="104.3" y2="1181.4"/>
<line x1="538.6" y1="1286.0" x2="538.6" y2="1296.0"/>
<line x1="99.3" y1="1207.5" x2="104.3" y2="1207.5"/>
<line x1="565.8" y1="1286.0" x2="565.8" y2="1291.0"/>
<line x1="94.3" y1="1233.7" x2="104.3" y2="1233.7"/>
<line x1="592.9" y1="1286.0" x2="592.9" y2="1296.0"/>
<line x1="99.3" y1="1259.8" x2="104.3" y2="1259.8"/>
<line x1="620.1" y1="1286.0" x2="620.1" y2="1291.0"/>
<line x1="94.3" y1="1286.0" x2="104.3" y2="1286.0"/>
<line x1="647.2" y1="1286.0" x2="647.2" y2="1296.0"/></g>
<g font-family="Liberation Sans, sans-serif" font-size="22" fill="#000"><text x="86" y="770.5" text-anchor="end">50</text>
<text x="104.3" y="1320" text-anchor="middle">-50</text>
<text x="86" y="822.8" text-anchor="end">40</text>
<text x="158.6" y="1320" text-anchor="middle">-40</text>
<text x="86" y="875.1" text-anchor="end">30</text>
<text x="212.9" y="1320" text-anchor="middle">-30</text>
<text x="86" y="927.4" text-anchor="end">20</text>
<text x="267.2" y="1320" text-anchor="middle">-20</text>
<text x="86" y="979.7" text-anchor="end">10</text>
<text x="321.5" y="1320" text-anchor="middle">-10</text>
<text x="86" y="1032.0" text-anchor="end">0</text>
<text x="375.8" y="1320" text-anchor="middle">0</text>
<text x="86" y="1084.3" text-anchor="end">-10</text>
<text x="430.0" y="1320" text-anchor="middle">10</text>
<text x="86" y="1136.6" text-anchor="end">-20</text>
<text x="484.3" y="1320" text-anchor="middle">20</text>
<text x="86" y="1188.9" text-anchor="end">-30</text>
<text x="538.6" y="1320" text-anchor="middle">30</text>
<text x="86" y="1241.2" text-anchor="end">-40</text>
<text x="592.9" y="1320" text-anchor="middle">40</text>
<text x="86" y="1293.5" text-anchor="end">-50</text>
<text x="647.2" y="1320" text-anchor="middle">50</text>
<text transform="translate(40.5,1024.5) rotate(-90)" text-anchor="middle" font-size="28">Y (µm)</text>
<text x="375.5" y="1365.3" text-anchor="middle" font-size="28">X (µm)</text>
<text x="646.5" y="740.6" text-anchor="middle" font-size="27.3">Amount of tensile strain %</text>
<rect x="735.5" y="762.5" width="42.5" height="3.5" fill="#808080"/>
<rect x="735.5" y="765.8" width="42.5" height="517.1" fill="url(#cbg)"/>
<rect x="735.5" y="1282.9" width="42.5" height="3.8" fill="#000"/>
<rect x="735.5" y="762.5" width="42.5" height="524.2" fill="none" stroke="#333" stroke-width="1"/>
<line x1="778.0" y1="765.8" x2="788.5" y2="765.8" stroke="#333" stroke-width="1.2"/>
<text x="796" y="771.6" font-size="17.4">0.6560</text>
<line x1="778.0" y1="830.4" x2="788.5" y2="830.4" stroke="#333" stroke-width="1.2"/>
<text x="796" y="836.2" font-size="17.4">0.6205</text>
<line x1="778.0" y1="895.1" x2="788.5" y2="895.1" stroke="#333" stroke-width="1.2"/>
<text x="796" y="900.9" font-size="17.4">0.5850</text>
<line x1="778.0" y1="959.7" x2="788.5" y2="959.7" stroke="#333" stroke-width="1.2"/>
<text x="796" y="965.5" font-size="17.4">0.5495</text>
<line x1="778.0" y1="1024.3" x2="788.5" y2="1024.3" stroke="#333" stroke-width="1.2"/>
<text x="796" y="1030.1" font-size="17.4">0.5140</text>
<line x1="778.0" y1="1089.0" x2="788.5" y2="1089.0" stroke="#333" stroke-width="1.2"/>
<text x="796" y="1094.8" font-size="17.4">0.4785</text>
<line x1="778.0" y1="1153.6" x2="788.5" y2="1153.6" stroke="#333" stroke-width="1.2"/>
<text x="796" y="1159.4" font-size="17.4">0.4430</text>
<line x1="778.0" y1="1218.3" x2="788.5" y2="1218.3" stroke="#333" stroke-width="1.2"/>
<text x="796" y="1224.1" font-size="17.4">0.4075</text>
<line x1="778.0" y1="1282.9" x2="788.5" y2="1282.9" stroke="#333" stroke-width="1.2"/>
<text x="796" y="1288.7" font-size="17.4">0.3720</text>
</g>

</svg>
</body></html>
